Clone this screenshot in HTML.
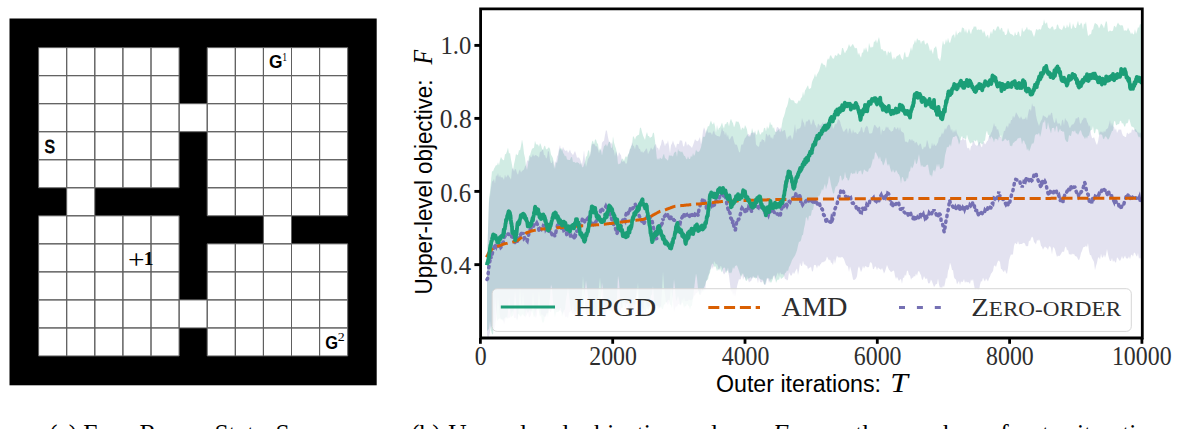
<!DOCTYPE html>
<html><head><meta charset="utf-8"><title>Figure</title>
<style>html,body{margin:0;padding:0;background:#fff;overflow:hidden}svg{display:block}</style>
</head><body>
<svg width="1179" height="429" viewBox="0 0 1179 429">
<rect x="9.5" y="18.5" width="367.2" height="366.8" fill="#000"/>
<rect x="38.60" y="47.63" width="28.15" height="28.08" fill="#fff"/>
<rect x="66.70" y="47.63" width="28.15" height="28.08" fill="#fff"/>
<rect x="94.80" y="47.63" width="28.15" height="28.08" fill="#fff"/>
<rect x="122.90" y="47.63" width="28.15" height="28.08" fill="#fff"/>
<rect x="151.00" y="47.63" width="28.15" height="28.08" fill="#fff"/>
<rect x="207.20" y="47.63" width="28.15" height="28.08" fill="#fff"/>
<rect x="235.30" y="47.63" width="28.15" height="28.08" fill="#fff"/>
<rect x="263.40" y="47.63" width="28.15" height="28.08" fill="#fff"/>
<rect x="291.50" y="47.63" width="28.15" height="28.08" fill="#fff"/>
<rect x="319.60" y="47.63" width="28.15" height="28.08" fill="#fff"/>
<rect x="38.60" y="75.66" width="28.15" height="28.08" fill="#fff"/>
<rect x="66.70" y="75.66" width="28.15" height="28.08" fill="#fff"/>
<rect x="94.80" y="75.66" width="28.15" height="28.08" fill="#fff"/>
<rect x="122.90" y="75.66" width="28.15" height="28.08" fill="#fff"/>
<rect x="151.00" y="75.66" width="28.15" height="28.08" fill="#fff"/>
<rect x="207.20" y="75.66" width="28.15" height="28.08" fill="#fff"/>
<rect x="235.30" y="75.66" width="28.15" height="28.08" fill="#fff"/>
<rect x="263.40" y="75.66" width="28.15" height="28.08" fill="#fff"/>
<rect x="291.50" y="75.66" width="28.15" height="28.08" fill="#fff"/>
<rect x="319.60" y="75.66" width="28.15" height="28.08" fill="#fff"/>
<rect x="38.60" y="103.69" width="28.15" height="28.08" fill="#fff"/>
<rect x="66.70" y="103.69" width="28.15" height="28.08" fill="#fff"/>
<rect x="94.80" y="103.69" width="28.15" height="28.08" fill="#fff"/>
<rect x="122.90" y="103.69" width="28.15" height="28.08" fill="#fff"/>
<rect x="151.00" y="103.69" width="28.15" height="28.08" fill="#fff"/>
<rect x="179.10" y="103.69" width="28.15" height="28.08" fill="#fff"/>
<rect x="207.20" y="103.69" width="28.15" height="28.08" fill="#fff"/>
<rect x="235.30" y="103.69" width="28.15" height="28.08" fill="#fff"/>
<rect x="263.40" y="103.69" width="28.15" height="28.08" fill="#fff"/>
<rect x="291.50" y="103.69" width="28.15" height="28.08" fill="#fff"/>
<rect x="319.60" y="103.69" width="28.15" height="28.08" fill="#fff"/>
<rect x="38.60" y="131.72" width="28.15" height="28.08" fill="#fff"/>
<rect x="66.70" y="131.72" width="28.15" height="28.08" fill="#fff"/>
<rect x="94.80" y="131.72" width="28.15" height="28.08" fill="#fff"/>
<rect x="122.90" y="131.72" width="28.15" height="28.08" fill="#fff"/>
<rect x="151.00" y="131.72" width="28.15" height="28.08" fill="#fff"/>
<rect x="207.20" y="131.72" width="28.15" height="28.08" fill="#fff"/>
<rect x="235.30" y="131.72" width="28.15" height="28.08" fill="#fff"/>
<rect x="263.40" y="131.72" width="28.15" height="28.08" fill="#fff"/>
<rect x="291.50" y="131.72" width="28.15" height="28.08" fill="#fff"/>
<rect x="319.60" y="131.72" width="28.15" height="28.08" fill="#fff"/>
<rect x="38.60" y="159.75" width="28.15" height="28.08" fill="#fff"/>
<rect x="66.70" y="159.75" width="28.15" height="28.08" fill="#fff"/>
<rect x="94.80" y="159.75" width="28.15" height="28.08" fill="#fff"/>
<rect x="122.90" y="159.75" width="28.15" height="28.08" fill="#fff"/>
<rect x="151.00" y="159.75" width="28.15" height="28.08" fill="#fff"/>
<rect x="207.20" y="159.75" width="28.15" height="28.08" fill="#fff"/>
<rect x="235.30" y="159.75" width="28.15" height="28.08" fill="#fff"/>
<rect x="263.40" y="159.75" width="28.15" height="28.08" fill="#fff"/>
<rect x="291.50" y="159.75" width="28.15" height="28.08" fill="#fff"/>
<rect x="319.60" y="159.75" width="28.15" height="28.08" fill="#fff"/>
<rect x="66.70" y="187.78" width="28.15" height="28.08" fill="#fff"/>
<rect x="207.20" y="187.78" width="28.15" height="28.08" fill="#fff"/>
<rect x="235.30" y="187.78" width="28.15" height="28.08" fill="#fff"/>
<rect x="263.40" y="187.78" width="28.15" height="28.08" fill="#fff"/>
<rect x="291.50" y="187.78" width="28.15" height="28.08" fill="#fff"/>
<rect x="319.60" y="187.78" width="28.15" height="28.08" fill="#fff"/>
<rect x="38.60" y="215.81" width="28.15" height="28.08" fill="#fff"/>
<rect x="66.70" y="215.81" width="28.15" height="28.08" fill="#fff"/>
<rect x="94.80" y="215.81" width="28.15" height="28.08" fill="#fff"/>
<rect x="122.90" y="215.81" width="28.15" height="28.08" fill="#fff"/>
<rect x="151.00" y="215.81" width="28.15" height="28.08" fill="#fff"/>
<rect x="263.40" y="215.81" width="28.15" height="28.08" fill="#fff"/>
<rect x="38.60" y="243.84" width="28.15" height="28.08" fill="#fff"/>
<rect x="66.70" y="243.84" width="28.15" height="28.08" fill="#fff"/>
<rect x="94.80" y="243.84" width="28.15" height="28.08" fill="#fff"/>
<rect x="122.90" y="243.84" width="28.15" height="28.08" fill="#fff"/>
<rect x="151.00" y="243.84" width="28.15" height="28.08" fill="#fff"/>
<rect x="207.20" y="243.84" width="28.15" height="28.08" fill="#fff"/>
<rect x="235.30" y="243.84" width="28.15" height="28.08" fill="#fff"/>
<rect x="263.40" y="243.84" width="28.15" height="28.08" fill="#fff"/>
<rect x="291.50" y="243.84" width="28.15" height="28.08" fill="#fff"/>
<rect x="319.60" y="243.84" width="28.15" height="28.08" fill="#fff"/>
<rect x="38.60" y="271.87" width="28.15" height="28.08" fill="#fff"/>
<rect x="66.70" y="271.87" width="28.15" height="28.08" fill="#fff"/>
<rect x="94.80" y="271.87" width="28.15" height="28.08" fill="#fff"/>
<rect x="122.90" y="271.87" width="28.15" height="28.08" fill="#fff"/>
<rect x="151.00" y="271.87" width="28.15" height="28.08" fill="#fff"/>
<rect x="207.20" y="271.87" width="28.15" height="28.08" fill="#fff"/>
<rect x="235.30" y="271.87" width="28.15" height="28.08" fill="#fff"/>
<rect x="263.40" y="271.87" width="28.15" height="28.08" fill="#fff"/>
<rect x="291.50" y="271.87" width="28.15" height="28.08" fill="#fff"/>
<rect x="319.60" y="271.87" width="28.15" height="28.08" fill="#fff"/>
<rect x="38.60" y="299.90" width="28.15" height="28.08" fill="#fff"/>
<rect x="66.70" y="299.90" width="28.15" height="28.08" fill="#fff"/>
<rect x="94.80" y="299.90" width="28.15" height="28.08" fill="#fff"/>
<rect x="122.90" y="299.90" width="28.15" height="28.08" fill="#fff"/>
<rect x="151.00" y="299.90" width="28.15" height="28.08" fill="#fff"/>
<rect x="179.10" y="299.90" width="28.15" height="28.08" fill="#fff"/>
<rect x="207.20" y="299.90" width="28.15" height="28.08" fill="#fff"/>
<rect x="235.30" y="299.90" width="28.15" height="28.08" fill="#fff"/>
<rect x="263.40" y="299.90" width="28.15" height="28.08" fill="#fff"/>
<rect x="291.50" y="299.90" width="28.15" height="28.08" fill="#fff"/>
<rect x="319.60" y="299.90" width="28.15" height="28.08" fill="#fff"/>
<rect x="38.60" y="327.93" width="28.15" height="28.08" fill="#fff"/>
<rect x="66.70" y="327.93" width="28.15" height="28.08" fill="#fff"/>
<rect x="94.80" y="327.93" width="28.15" height="28.08" fill="#fff"/>
<rect x="122.90" y="327.93" width="28.15" height="28.08" fill="#fff"/>
<rect x="151.00" y="327.93" width="28.15" height="28.08" fill="#fff"/>
<rect x="207.20" y="327.93" width="28.15" height="28.08" fill="#fff"/>
<rect x="235.30" y="327.93" width="28.15" height="28.08" fill="#fff"/>
<rect x="263.40" y="327.93" width="28.15" height="28.08" fill="#fff"/>
<rect x="291.50" y="327.93" width="28.15" height="28.08" fill="#fff"/>
<rect x="319.60" y="327.93" width="28.15" height="28.08" fill="#fff"/>
<path d="M38.60,47.63H66.70V75.66H38.60ZM66.70,47.63H94.80V75.66H66.70ZM94.80,47.63H122.90V75.66H94.80ZM122.90,47.63H151.00V75.66H122.90ZM151.00,47.63H179.10V75.66H151.00ZM207.20,47.63H235.30V75.66H207.20ZM235.30,47.63H263.40V75.66H235.30ZM263.40,47.63H291.50V75.66H263.40ZM291.50,47.63H319.60V75.66H291.50ZM319.60,47.63H347.70V75.66H319.60ZM38.60,75.66H66.70V103.69H38.60ZM66.70,75.66H94.80V103.69H66.70ZM94.80,75.66H122.90V103.69H94.80ZM122.90,75.66H151.00V103.69H122.90ZM151.00,75.66H179.10V103.69H151.00ZM207.20,75.66H235.30V103.69H207.20ZM235.30,75.66H263.40V103.69H235.30ZM263.40,75.66H291.50V103.69H263.40ZM291.50,75.66H319.60V103.69H291.50ZM319.60,75.66H347.70V103.69H319.60ZM38.60,103.69H66.70V131.72H38.60ZM66.70,103.69H94.80V131.72H66.70ZM94.80,103.69H122.90V131.72H94.80ZM122.90,103.69H151.00V131.72H122.90ZM151.00,103.69H179.10V131.72H151.00ZM179.10,103.69H207.20V131.72H179.10ZM207.20,103.69H235.30V131.72H207.20ZM235.30,103.69H263.40V131.72H235.30ZM263.40,103.69H291.50V131.72H263.40ZM291.50,103.69H319.60V131.72H291.50ZM319.60,103.69H347.70V131.72H319.60ZM38.60,131.72H66.70V159.75H38.60ZM66.70,131.72H94.80V159.75H66.70ZM94.80,131.72H122.90V159.75H94.80ZM122.90,131.72H151.00V159.75H122.90ZM151.00,131.72H179.10V159.75H151.00ZM207.20,131.72H235.30V159.75H207.20ZM235.30,131.72H263.40V159.75H235.30ZM263.40,131.72H291.50V159.75H263.40ZM291.50,131.72H319.60V159.75H291.50ZM319.60,131.72H347.70V159.75H319.60ZM38.60,159.75H66.70V187.78H38.60ZM66.70,159.75H94.80V187.78H66.70ZM94.80,159.75H122.90V187.78H94.80ZM122.90,159.75H151.00V187.78H122.90ZM151.00,159.75H179.10V187.78H151.00ZM207.20,159.75H235.30V187.78H207.20ZM235.30,159.75H263.40V187.78H235.30ZM263.40,159.75H291.50V187.78H263.40ZM291.50,159.75H319.60V187.78H291.50ZM319.60,159.75H347.70V187.78H319.60ZM66.70,187.78H94.80V215.81H66.70ZM207.20,187.78H235.30V215.81H207.20ZM235.30,187.78H263.40V215.81H235.30ZM263.40,187.78H291.50V215.81H263.40ZM291.50,187.78H319.60V215.81H291.50ZM319.60,187.78H347.70V215.81H319.60ZM38.60,215.81H66.70V243.84H38.60ZM66.70,215.81H94.80V243.84H66.70ZM94.80,215.81H122.90V243.84H94.80ZM122.90,215.81H151.00V243.84H122.90ZM151.00,215.81H179.10V243.84H151.00ZM263.40,215.81H291.50V243.84H263.40ZM38.60,243.84H66.70V271.87H38.60ZM66.70,243.84H94.80V271.87H66.70ZM94.80,243.84H122.90V271.87H94.80ZM122.90,243.84H151.00V271.87H122.90ZM151.00,243.84H179.10V271.87H151.00ZM207.20,243.84H235.30V271.87H207.20ZM235.30,243.84H263.40V271.87H235.30ZM263.40,243.84H291.50V271.87H263.40ZM291.50,243.84H319.60V271.87H291.50ZM319.60,243.84H347.70V271.87H319.60ZM38.60,271.87H66.70V299.90H38.60ZM66.70,271.87H94.80V299.90H66.70ZM94.80,271.87H122.90V299.90H94.80ZM122.90,271.87H151.00V299.90H122.90ZM151.00,271.87H179.10V299.90H151.00ZM207.20,271.87H235.30V299.90H207.20ZM235.30,271.87H263.40V299.90H235.30ZM263.40,271.87H291.50V299.90H263.40ZM291.50,271.87H319.60V299.90H291.50ZM319.60,271.87H347.70V299.90H319.60ZM38.60,299.90H66.70V327.93H38.60ZM66.70,299.90H94.80V327.93H66.70ZM94.80,299.90H122.90V327.93H94.80ZM122.90,299.90H151.00V327.93H122.90ZM151.00,299.90H179.10V327.93H151.00ZM179.10,299.90H207.20V327.93H179.10ZM207.20,299.90H235.30V327.93H207.20ZM235.30,299.90H263.40V327.93H235.30ZM263.40,299.90H291.50V327.93H263.40ZM291.50,299.90H319.60V327.93H291.50ZM319.60,299.90H347.70V327.93H319.60ZM38.60,327.93H66.70V355.96H38.60ZM66.70,327.93H94.80V355.96H66.70ZM94.80,327.93H122.90V355.96H94.80ZM122.90,327.93H151.00V355.96H122.90ZM151.00,327.93H179.10V355.96H151.00ZM207.20,327.93H235.30V355.96H207.20ZM235.30,327.93H263.40V355.96H235.30ZM263.40,327.93H291.50V355.96H263.40ZM291.50,327.93H319.60V355.96H291.50ZM319.60,327.93H347.70V355.96H319.60Z" fill="none" stroke="#606060" stroke-width="1"/>
<defs><clipPath id="ax"><rect x="480.4" y="8.8" width="661.5" height="329.2"/></clipPath></defs>
<g clip-path="url(#ax)">
<path d="M487.0,266.0 L488.0,228.4 L489.0,198.1 L490.0,191.9 L491.0,180.9 L492.0,171.0 L493.0,171.4 L494.0,168.7 L495.0,167.0 L496.0,164.9 L497.0,165.4 L498.0,162.2 L499.0,165.4 L500.0,159.7 L501.0,156.9 L502.0,158.7 L503.0,160.0 L504.0,160.2 L505.0,154.2 L506.0,153.9 L507.0,151.3 L508.0,147.4 L509.0,153.8 L510.0,152.7 L511.0,159.6 L512.0,164.7 L513.0,170.7 L514.0,164.2 L515.0,159.7 L516.0,153.5 L517.0,155.3 L518.0,154.8 L519.0,149.9 L520.0,150.5 L521.0,146.1 L522.0,139.5 L523.0,144.4 L524.0,153.5 L525.0,157.8 L526.0,166.2 L527.0,170.1 L528.0,164.9 L529.0,155.8 L530.0,155.3 L531.0,151.8 L532.0,148.7 L533.0,148.2 L534.0,147.7 L535.0,140.8 L536.0,144.3 L537.0,144.6 L538.0,144.6 L539.0,146.7 L540.0,142.9 L541.0,144.9 L542.0,148.8 L543.0,149.9 L544.0,146.6 L545.0,145.4 L546.0,149.1 L547.0,149.6 L548.0,147.9 L549.0,147.2 L550.0,149.0 L551.0,154.5 L552.0,156.2 L553.0,158.2 L554.0,164.8 L555.0,168.9 L556.0,162.1 L557.0,163.3 L558.0,158.8 L559.0,151.1 L560.0,148.6 L561.0,148.6 L562.0,148.7 L563.0,152.6 L564.0,154.3 L565.0,156.6 L566.0,155.6 L567.0,159.6 L568.0,159.8 L569.0,159.9 L570.0,160.0 L571.0,157.2 L572.0,157.0 L573.0,162.2 L574.0,161.8 L575.0,162.6 L576.0,163.1 L577.0,162.1 L578.0,162.7 L579.0,163.2 L580.0,164.8 L581.0,162.8 L582.0,166.8 L583.0,167.5 L584.0,164.8 L585.0,161.7 L586.0,156.8 L587.0,156.1 L588.0,151.0 L589.0,150.1 L590.0,156.7 L591.0,146.6 L592.0,141.8 L593.0,140.6 L594.0,144.4 L595.0,139.4 L596.0,139.4 L597.0,143.0 L598.0,144.0 L599.0,151.1 L600.0,147.9 L601.0,150.4 L602.0,155.5 L603.0,150.6 L604.0,146.2 L605.0,145.4 L606.0,144.1 L607.0,146.7 L608.0,144.3 L609.0,141.8 L610.0,141.7 L611.0,148.1 L612.0,147.6 L613.0,136.2 L614.0,142.5 L615.0,145.9 L616.0,148.8 L617.0,153.8 L618.0,164.5 L619.0,163.6 L620.0,164.0 L621.0,162.0 L622.0,158.4 L623.0,159.0 L624.0,161.2 L625.0,157.7 L626.0,156.0 L627.0,157.6 L628.0,154.6 L629.0,152.7 L630.0,149.3 L631.0,146.3 L632.0,145.1 L633.0,136.0 L634.0,137.3 L635.0,139.7 L636.0,136.4 L637.0,135.9 L638.0,134.7 L639.0,135.0 L640.0,127.5 L641.0,128.0 L642.0,131.9 L643.0,135.5 L644.0,137.8 L645.0,140.0 L646.0,135.0 L647.0,131.9 L648.0,135.9 L649.0,135.9 L650.0,138.0 L651.0,137.0 L652.0,136.7 L653.0,132.4 L654.0,133.3 L655.0,140.8 L656.0,150.4 L657.0,160.1 L658.0,158.1 L659.0,159.9 L660.0,157.4 L661.0,158.4 L662.0,159.1 L663.0,155.6 L664.0,153.8 L665.0,158.1 L666.0,158.8 L667.0,159.8 L668.0,160.8 L669.0,155.1 L670.0,156.0 L671.0,155.2 L672.0,155.9 L673.0,156.5 L674.0,153.2 L675.0,152.1 L676.0,151.6 L677.0,156.9 L678.0,148.9 L679.0,151.4 L680.0,150.9 L681.0,152.6 L682.0,151.3 L683.0,153.3 L684.0,155.8 L685.0,155.9 L686.0,158.4 L687.0,159.6 L688.0,156.3 L689.0,159.0 L690.0,158.9 L691.0,155.5 L692.0,157.3 L693.0,153.0 L694.0,155.9 L695.0,154.3 L696.0,149.6 L697.0,151.6 L698.0,151.8 L699.0,151.7 L700.0,150.0 L701.0,147.2 L702.0,142.2 L703.0,136.7 L704.0,136.8 L705.0,136.7 L706.0,132.3 L707.0,129.2 L708.0,125.9 L709.0,126.6 L710.0,123.0 L711.0,120.5 L712.0,123.5 L713.0,124.5 L714.0,121.9 L715.0,126.2 L716.0,132.8 L717.0,124.7 L718.0,130.6 L719.0,127.9 L720.0,127.4 L721.0,125.3 L722.0,122.6 L723.0,126.2 L724.0,128.6 L725.0,123.8 L726.0,124.4 L727.0,121.9 L728.0,122.3 L729.0,126.4 L730.0,121.2 L731.0,118.7 L732.0,121.4 L733.0,123.2 L734.0,127.6 L735.0,124.9 L736.0,120.8 L737.0,122.2 L738.0,121.3 L739.0,122.8 L740.0,125.4 L741.0,130.6 L742.0,128.0 L743.0,127.4 L744.0,129.4 L745.0,125.1 L746.0,127.0 L747.0,129.4 L748.0,136.4 L749.0,136.0 L750.0,137.1 L751.0,134.4 L752.0,128.0 L753.0,131.4 L754.0,135.0 L755.0,130.2 L756.0,134.2 L757.0,134.8 L758.0,129.2 L759.0,131.2 L760.0,134.7 L761.0,134.1 L762.0,131.8 L763.0,132.8 L764.0,128.1 L765.0,127.8 L766.0,131.4 L767.0,126.1 L768.0,129.0 L769.0,127.0 L770.0,121.5 L771.0,125.2 L772.0,124.3 L773.0,128.7 L774.0,126.9 L775.0,131.4 L776.0,131.9 L777.0,131.6 L778.0,130.0 L779.0,129.3 L780.0,132.6 L781.0,130.5 L782.0,123.6 L783.0,118.4 L784.0,116.2 L785.0,112.8 L786.0,108.3 L787.0,106.5 L788.0,102.9 L789.0,97.2 L790.0,98.4 L791.0,99.9 L792.0,100.2 L793.0,100.2 L794.0,100.8 L795.0,103.2 L796.0,103.0 L797.0,103.9 L798.0,101.7 L799.0,100.1 L800.0,101.5 L801.0,97.7 L802.0,97.6 L803.0,91.4 L804.0,95.9 L805.0,90.5 L806.0,89.1 L807.0,86.7 L808.0,85.2 L809.0,89.2 L810.0,88.4 L811.0,88.1 L812.0,82.0 L813.0,79.5 L814.0,77.6 L815.0,73.4 L816.0,77.4 L817.0,74.6 L818.0,72.7 L819.0,71.1 L820.0,67.8 L821.0,64.0 L822.0,62.5 L823.0,64.6 L824.0,64.8 L825.0,65.3 L826.0,67.9 L827.0,60.8 L828.0,58.2 L829.0,59.8 L830.0,55.8 L831.0,55.2 L832.0,57.4 L833.0,58.7 L834.0,58.6 L835.0,54.9 L836.0,55.4 L837.0,56.1 L838.0,53.1 L839.0,54.0 L840.0,55.2 L841.0,54.5 L842.0,48.1 L843.0,48.1 L844.0,51.2 L845.0,53.4 L846.0,51.1 L847.0,49.9 L848.0,47.2 L849.0,44.0 L850.0,46.6 L851.0,46.7 L852.0,44.7 L853.0,44.1 L854.0,46.2 L855.0,48.4 L856.0,47.8 L857.0,48.4 L858.0,54.9 L859.0,52.6 L860.0,55.7 L861.0,57.7 L862.0,52.4 L863.0,52.7 L864.0,47.7 L865.0,50.8 L866.0,46.9 L867.0,50.5 L868.0,52.4 L869.0,42.7 L870.0,46.6 L871.0,48.0 L872.0,46.4 L873.0,47.5 L874.0,41.2 L875.0,42.1 L876.0,39.3 L877.0,43.6 L878.0,40.1 L879.0,37.0 L880.0,42.1 L881.0,49.5 L882.0,49.1 L883.0,49.9 L884.0,51.6 L885.0,50.6 L886.0,51.4 L887.0,56.1 L888.0,50.9 L889.0,52.6 L890.0,52.9 L891.0,51.1 L892.0,57.3 L893.0,60.0 L894.0,56.5 L895.0,59.4 L896.0,57.5 L897.0,55.8 L898.0,55.8 L899.0,54.8 L900.0,54.0 L901.0,57.4 L902.0,59.1 L903.0,59.9 L904.0,53.7 L905.0,51.5 L906.0,57.4 L907.0,56.4 L908.0,57.5 L909.0,54.6 L910.0,51.2 L911.0,47.1 L912.0,51.0 L913.0,45.1 L914.0,43.4 L915.0,39.8 L916.0,43.2 L917.0,38.1 L918.0,39.7 L919.0,40.5 L920.0,39.9 L921.0,44.1 L922.0,40.8 L923.0,41.5 L924.0,39.8 L925.0,44.5 L926.0,44.3 L927.0,42.4 L928.0,43.8 L929.0,46.9 L930.0,51.5 L931.0,48.7 L932.0,51.4 L933.0,54.3 L934.0,48.2 L935.0,47.6 L936.0,46.1 L937.0,49.9 L938.0,58.4 L939.0,58.6 L940.0,61.5 L941.0,56.6 L942.0,46.6 L943.0,40.5 L944.0,44.7 L945.0,43.8 L946.0,38.9 L947.0,43.1 L948.0,37.7 L949.0,41.7 L950.0,43.3 L951.0,39.4 L952.0,36.0 L953.0,35.1 L954.0,34.2 L955.0,38.2 L956.0,29.9 L957.0,35.5 L958.0,33.3 L959.0,32.8 L960.0,31.2 L961.0,33.0 L962.0,27.3 L963.0,28.1 L964.0,28.3 L965.0,32.7 L966.0,28.8 L967.0,33.8 L968.0,31.5 L969.0,28.6 L970.0,31.9 L971.0,34.2 L972.0,30.0 L973.0,28.7 L974.0,25.9 L975.0,27.3 L976.0,25.9 L977.0,30.2 L978.0,29.5 L979.0,29.5 L980.0,30.2 L981.0,28.9 L982.0,30.5 L983.0,33.5 L984.0,30.4 L985.0,32.9 L986.0,37.1 L987.0,35.6 L988.0,34.5 L989.0,38.9 L990.0,34.3 L991.0,31.0 L992.0,34.2 L993.0,29.5 L994.0,28.9 L995.0,31.3 L996.0,29.4 L997.0,26.9 L998.0,25.9 L999.0,27.2 L1000.0,30.6 L1001.0,28.3 L1002.0,27.8 L1003.0,32.3 L1004.0,30.9 L1005.0,35.0 L1006.0,35.1 L1007.0,33.6 L1008.0,27.8 L1009.0,31.2 L1010.0,33.4 L1011.0,33.9 L1012.0,34.4 L1013.0,35.0 L1014.0,36.5 L1015.0,31.7 L1016.0,34.9 L1017.0,35.1 L1018.0,31.2 L1019.0,32.2 L1020.0,36.7 L1021.0,35.7 L1022.0,27.3 L1023.0,31.2 L1024.0,31.8 L1025.0,30.1 L1026.0,29.0 L1027.0,26.6 L1028.0,30.4 L1029.0,28.8 L1030.0,30.7 L1031.0,30.1 L1032.0,31.4 L1033.0,34.4 L1034.0,37.0 L1035.0,33.9 L1036.0,29.3 L1037.0,29.3 L1038.0,30.6 L1039.0,28.8 L1040.0,29.5 L1041.0,29.5 L1042.0,25.4 L1043.0,25.1 L1044.0,19.2 L1045.0,23.4 L1046.0,23.4 L1047.0,21.9 L1048.0,27.5 L1049.0,28.0 L1050.0,29.3 L1051.0,27.6 L1052.0,26.4 L1053.0,26.5 L1054.0,30.6 L1055.0,28.7 L1056.0,29.6 L1057.0,24.5 L1058.0,24.8 L1059.0,27.9 L1060.0,29.1 L1061.0,29.6 L1062.0,30.0 L1063.0,27.6 L1064.0,25.1 L1065.0,27.8 L1066.0,28.4 L1067.0,24.2 L1068.0,27.7 L1069.0,26.3 L1070.0,21.4 L1071.0,28.9 L1072.0,28.2 L1073.0,23.3 L1074.0,26.3 L1075.0,28.1 L1076.0,28.1 L1077.0,24.1 L1078.0,20.8 L1079.0,25.2 L1080.0,25.1 L1081.0,22.5 L1082.0,23.9 L1083.0,29.4 L1084.0,23.3 L1085.0,24.6 L1086.0,21.4 L1087.0,29.4 L1088.0,35.7 L1089.0,35.4 L1090.0,33.9 L1091.0,34.4 L1092.0,29.5 L1093.0,29.7 L1094.0,25.2 L1095.0,22.8 L1096.0,23.8 L1097.0,24.2 L1098.0,25.4 L1099.0,28.4 L1100.0,26.5 L1101.0,23.5 L1102.0,24.6 L1103.0,26.1 L1104.0,28.5 L1105.0,24.4 L1106.0,21.1 L1107.0,22.2 L1108.0,31.4 L1109.0,31.5 L1110.0,30.3 L1111.0,31.3 L1112.0,31.0 L1113.0,30.5 L1114.0,25.7 L1115.0,26.3 L1116.0,27.7 L1117.0,24.5 L1118.0,22.4 L1119.0,24.2 L1120.0,25.2 L1121.0,25.5 L1122.0,25.1 L1123.0,25.9 L1124.0,30.9 L1125.0,30.0 L1126.0,30.8 L1127.0,30.5 L1128.0,27.5 L1129.0,29.8 L1130.0,31.6 L1131.0,34.2 L1132.0,32.3 L1133.0,34.3 L1134.0,34.2 L1135.0,29.0 L1136.0,34.0 L1137.0,30.9 L1138.0,27.0 L1139.0,27.9 L1140.0,24.1 L1141.0,24.5 L1142.0,26.1 L1142.0,139.0 L1141.0,139.3 L1140.0,136.4 L1139.0,137.4 L1138.0,136.0 L1137.0,132.6 L1136.0,132.0 L1135.0,131.2 L1134.0,128.0 L1133.0,126.8 L1132.0,126.9 L1131.0,125.4 L1130.0,121.4 L1129.0,118.4 L1128.0,122.4 L1127.0,123.6 L1126.0,123.3 L1125.0,126.9 L1124.0,125.8 L1123.0,123.0 L1122.0,123.7 L1121.0,120.7 L1120.0,120.9 L1119.0,124.5 L1118.0,123.7 L1117.0,125.1 L1116.0,125.3 L1115.0,120.8 L1114.0,121.8 L1113.0,130.8 L1112.0,131.1 L1111.0,133.6 L1110.0,136.3 L1109.0,138.5 L1108.0,139.8 L1107.0,138.1 L1106.0,136.4 L1105.0,136.4 L1104.0,139.3 L1103.0,138.6 L1102.0,134.6 L1101.0,134.7 L1100.0,134.1 L1099.0,135.4 L1098.0,129.3 L1097.0,129.8 L1096.0,128.6 L1095.0,133.4 L1094.0,132.7 L1093.0,125.9 L1092.0,130.1 L1091.0,129.8 L1090.0,131.6 L1089.0,135.9 L1088.0,135.6 L1087.0,138.8 L1086.0,136.4 L1085.0,139.3 L1084.0,136.9 L1083.0,135.9 L1082.0,133.9 L1081.0,130.5 L1080.0,130.6 L1079.0,133.0 L1078.0,135.0 L1077.0,133.3 L1076.0,133.4 L1075.0,130.3 L1074.0,131.8 L1073.0,131.3 L1072.0,131.0 L1071.0,136.0 L1070.0,135.8 L1069.0,135.0 L1068.0,141.7 L1067.0,141.9 L1066.0,141.0 L1065.0,138.9 L1064.0,131.3 L1063.0,132.1 L1062.0,131.0 L1061.0,131.1 L1060.0,128.6 L1059.0,131.1 L1058.0,132.8 L1057.0,125.7 L1056.0,126.9 L1055.0,132.2 L1054.0,127.8 L1053.0,128.1 L1052.0,127.9 L1051.0,133.6 L1050.0,130.1 L1049.0,127.0 L1048.0,122.3 L1047.0,128.8 L1046.0,129.2 L1045.0,119.6 L1044.0,122.8 L1043.0,122.1 L1042.0,128.1 L1041.0,133.8 L1040.0,137.1 L1039.0,132.5 L1038.0,134.4 L1037.0,134.2 L1036.0,134.3 L1035.0,135.5 L1034.0,142.0 L1033.0,143.9 L1032.0,143.2 L1031.0,146.3 L1030.0,149.5 L1029.0,151.5 L1028.0,148.3 L1027.0,150.5 L1026.0,144.9 L1025.0,143.4 L1024.0,140.6 L1023.0,140.8 L1022.0,144.6 L1021.0,138.3 L1020.0,137.6 L1019.0,138.4 L1018.0,137.9 L1017.0,139.7 L1016.0,141.1 L1015.0,141.2 L1014.0,142.4 L1013.0,143.1 L1012.0,146.5 L1011.0,145.4 L1010.0,146.3 L1009.0,139.7 L1008.0,140.4 L1007.0,140.8 L1006.0,139.5 L1005.0,138.5 L1004.0,140.4 L1003.0,141.1 L1002.0,141.5 L1001.0,134.4 L1000.0,138.3 L999.0,136.1 L998.0,140.8 L997.0,138.7 L996.0,139.2 L995.0,138.2 L994.0,142.4 L993.0,139.1 L992.0,137.3 L991.0,136.2 L990.0,139.5 L989.0,134.9 L988.0,134.7 L987.0,130.5 L986.0,133.4 L985.0,140.7 L984.0,140.8 L983.0,143.4 L982.0,144.6 L981.0,143.3 L980.0,142.8 L979.0,146.8 L978.0,143.0 L977.0,139.5 L976.0,141.3 L975.0,141.2 L974.0,140.1 L973.0,142.9 L972.0,141.9 L971.0,143.4 L970.0,143.3 L969.0,141.1 L968.0,138.4 L967.0,134.6 L966.0,139.4 L965.0,139.0 L964.0,138.0 L963.0,138.0 L962.0,136.0 L961.0,137.5 L960.0,142.0 L959.0,144.8 L958.0,140.3 L957.0,137.1 L956.0,135.5 L955.0,136.5 L954.0,137.0 L953.0,137.1 L952.0,140.2 L951.0,146.7 L950.0,143.9 L949.0,146.3 L948.0,147.5 L947.0,146.8 L946.0,151.4 L945.0,155.4 L944.0,164.0 L943.0,168.0 L942.0,167.8 L941.0,169.2 L940.0,169.1 L939.0,163.6 L938.0,167.6 L937.0,163.7 L936.0,168.2 L935.0,172.0 L934.0,169.5 L933.0,171.2 L932.0,176.9 L931.0,174.4 L930.0,175.8 L929.0,170.8 L928.0,164.8 L927.0,164.8 L926.0,165.7 L925.0,167.2 L924.0,166.4 L923.0,167.1 L922.0,164.7 L921.0,166.9 L920.0,161.1 L919.0,153.9 L918.0,159.3 L917.0,163.6 L916.0,164.1 L915.0,158.7 L914.0,163.7 L913.0,167.0 L912.0,168.5 L911.0,165.9 L910.0,171.2 L909.0,171.8 L908.0,179.6 L907.0,177.2 L906.0,181.1 L905.0,181.5 L904.0,181.3 L903.0,177.4 L902.0,177.0 L901.0,183.8 L900.0,177.2 L899.0,174.4 L898.0,173.8 L897.0,171.5 L896.0,170.1 L895.0,172.6 L894.0,172.3 L893.0,169.3 L892.0,172.5 L891.0,171.1 L890.0,167.6 L889.0,163.6 L888.0,165.9 L887.0,163.6 L886.0,157.3 L885.0,161.0 L884.0,164.2 L883.0,165.6 L882.0,161.5 L881.0,161.0 L880.0,156.2 L879.0,159.5 L878.0,156.9 L877.0,155.1 L876.0,152.5 L875.0,152.6 L874.0,160.1 L873.0,158.2 L872.0,162.9 L871.0,166.4 L870.0,168.4 L869.0,168.3 L868.0,171.9 L867.0,171.5 L866.0,171.2 L865.0,170.2 L864.0,169.3 L863.0,173.4 L862.0,174.8 L861.0,170.1 L860.0,171.6 L859.0,170.7 L858.0,173.6 L857.0,174.3 L856.0,169.9 L855.0,174.0 L854.0,172.8 L853.0,174.3 L852.0,173.6 L851.0,172.4 L850.0,176.4 L849.0,180.1 L848.0,180.8 L847.0,178.0 L846.0,177.5 L845.0,171.8 L844.0,178.5 L843.0,179.5 L842.0,181.0 L841.0,175.9 L840.0,175.6 L839.0,181.4 L838.0,183.6 L837.0,186.4 L836.0,186.1 L835.0,188.4 L834.0,193.8 L833.0,193.1 L832.0,189.0 L831.0,185.0 L830.0,179.3 L829.0,175.4 L828.0,183.1 L827.0,185.6 L826.0,189.6 L825.0,183.8 L824.0,186.7 L823.0,190.7 L822.0,188.8 L821.0,192.4 L820.0,194.6 L819.0,197.0 L818.0,195.6 L817.0,202.5 L816.0,203.9 L815.0,203.2 L814.0,204.4 L813.0,210.3 L812.0,209.8 L811.0,215.2 L810.0,216.3 L809.0,215.6 L808.0,221.3 L807.0,218.1 L806.0,217.0 L805.0,224.3 L804.0,228.5 L803.0,234.8 L802.0,235.6 L801.0,240.3 L800.0,241.8 L799.0,241.8 L798.0,245.4 L797.0,250.2 L796.0,253.1 L795.0,255.6 L794.0,256.9 L793.0,258.5 L792.0,260.2 L791.0,262.9 L790.0,265.5 L789.0,267.1 L788.0,271.3 L787.0,270.2 L786.0,272.5 L785.0,273.0 L784.0,276.3 L783.0,277.5 L782.0,278.2 L781.0,279.1 L780.0,276.2 L779.0,280.0 L778.0,279.3 L777.0,280.6 L776.0,282.9 L775.0,276.4 L774.0,274.7 L773.0,278.4 L772.0,280.9 L771.0,282.9 L770.0,281.4 L769.0,277.9 L768.0,278.8 L767.0,277.5 L766.0,281.3 L765.0,284.3 L764.0,284.6 L763.0,279.8 L762.0,279.7 L761.0,279.5 L760.0,278.9 L759.0,278.0 L758.0,274.6 L757.0,277.2 L756.0,278.7 L755.0,277.9 L754.0,277.3 L753.0,275.7 L752.0,279.0 L751.0,277.2 L750.0,277.4 L749.0,278.7 L748.0,278.3 L747.0,280.5 L746.0,281.0 L745.0,277.4 L744.0,276.0 L743.0,273.3 L742.0,274.7 L741.0,276.9 L740.0,274.3 L739.0,271.1 L738.0,268.2 L737.0,265.5 L736.0,265.6 L735.0,266.2 L734.0,269.3 L733.0,266.9 L732.0,271.5 L731.0,273.6 L730.0,272.3 L729.0,273.4 L728.0,267.5 L727.0,271.3 L726.0,273.3 L725.0,267.7 L724.0,267.6 L723.0,268.6 L722.0,272.5 L721.0,270.7 L720.0,268.1 L719.0,269.9 L718.0,268.7 L717.0,271.2 L716.0,267.4 L715.0,265.8 L714.0,267.5 L713.0,263.5 L712.0,264.0 L711.0,266.3 L710.0,272.7 L709.0,274.7 L708.0,279.6 L707.0,280.0 L706.0,281.7 L705.0,285.5 L704.0,287.2 L703.0,293.1 L702.0,289.0 L701.0,289.1 L700.0,295.1 L699.0,294.0 L698.0,289.1 L697.0,277.9 L696.0,273.4 L695.0,281.2 L694.0,289.4 L693.0,298.0 L692.0,305.8 L691.0,306.0 L690.0,309.8 L689.0,305.9 L688.0,305.4 L687.0,303.6 L686.0,306.8 L685.0,305.7 L684.0,308.2 L683.0,303.7 L682.0,302.1 L681.0,306.0 L680.0,304.0 L679.0,299.2 L678.0,296.0 L677.0,299.3 L676.0,301.1 L675.0,288.8 L674.0,279.3 L673.0,292.4 L672.0,307.9 L671.0,305.2 L670.0,304.4 L669.0,299.8 L668.0,300.1 L667.0,302.2 L666.0,301.8 L665.0,304.5 L664.0,304.4 L663.0,309.2 L662.0,309.0 L661.0,306.7 L660.0,308.6 L659.0,307.1 L658.0,305.3 L657.0,305.9 L656.0,305.0 L655.0,307.2 L654.0,299.3 L653.0,286.1 L652.0,294.4 L651.0,295.6 L650.0,305.0 L649.0,308.9 L648.0,310.5 L647.0,303.7 L646.0,313.0 L645.0,309.9 L644.0,309.7 L643.0,309.7 L642.0,306.7 L641.0,305.0 L640.0,304.6 L639.0,307.6 L638.0,299.6 L637.0,287.2 L636.0,296.7 L635.0,303.9 L634.0,305.1 L633.0,304.4 L632.0,306.5 L631.0,309.5 L630.0,309.0 L629.0,302.8 L628.0,302.6 L627.0,304.4 L626.0,303.5 L625.0,301.8 L624.0,302.6 L623.0,307.4 L622.0,308.3 L621.0,308.3 L620.0,295.1 L619.0,281.2 L618.0,275.8 L617.0,296.3 L616.0,309.3 L615.0,307.3 L614.0,308.2 L613.0,303.5 L612.0,310.3 L611.0,310.1 L610.0,310.3 L609.0,311.1 L608.0,309.3 L607.0,308.4 L606.0,308.8 L605.0,307.0 L604.0,306.2 L603.0,289.9 L602.0,282.6 L601.0,296.8 L600.0,303.8 L599.0,310.2 L598.0,313.4 L597.0,316.2 L596.0,313.4 L595.0,316.1 L594.0,309.0 L593.0,311.6 L592.0,311.9 L591.0,314.1 L590.0,314.0 L589.0,305.7 L588.0,296.6 L587.0,288.9 L586.0,280.4 L585.0,289.5 L584.0,300.2 L583.0,309.5 L582.0,307.9 L581.0,308.0 L580.0,305.0 L579.0,308.2 L578.0,309.7 L577.0,308.8 L576.0,312.3 L575.0,310.5 L574.0,312.0 L573.0,303.8 L572.0,310.0 L571.0,310.3 L570.0,302.8 L569.0,295.5 L568.0,287.9 L567.0,294.3 L566.0,299.2 L565.0,309.6 L564.0,309.9 L563.0,312.5 L562.0,317.2 L561.0,307.9 L560.0,308.4 L559.0,311.6 L558.0,311.8 L557.0,312.3 L556.0,312.3 L555.0,317.4 L554.0,312.7 L553.0,301.8 L552.0,288.3 L551.0,284.4 L550.0,297.3 L549.0,305.5 L548.0,318.1 L547.0,312.5 L546.0,315.3 L545.0,315.9 L544.0,321.4 L543.0,322.9 L542.0,321.4 L541.0,315.2 L540.0,317.1 L539.0,311.7 L538.0,308.6 L537.0,309.3 L536.0,309.4 L535.0,315.6 L534.0,317.7 L533.0,314.1 L532.0,310.3 L531.0,312.1 L530.0,309.9 L529.0,311.0 L528.0,312.8 L527.0,311.5 L526.0,309.0 L525.0,316.6 L524.0,316.1 L523.0,314.6 L522.0,314.4 L521.0,317.1 L520.0,316.0 L519.0,314.5 L518.0,313.8 L517.0,321.2 L516.0,301.9 L515.0,290.7 L514.0,306.8 L513.0,315.8 L512.0,315.9 L511.0,317.7 L510.0,307.2 L509.0,297.6 L508.0,311.9 L507.0,319.0 L506.0,316.8 L505.0,318.3 L504.0,318.6 L503.0,321.6 L502.0,318.8 L501.0,319.9 L500.0,317.9 L499.0,319.1 L498.0,319.4 L497.0,321.4 L496.0,308.8 L495.0,296.6 L494.0,321.5 L493.0,334.5 L492.0,334.0 L491.0,330.2 L490.0,320.8 L489.0,328.7 L488.0,329.9 L487.0,331.0 Z" fill="#1b9e77" fill-opacity="0.2"/>
<path d="M487.0,260.1 L488.0,232.1 L489.0,202.0 L490.0,195.9 L491.0,187.7 L492.0,181.4 L493.0,181.1 L494.0,178.7 L495.0,183.5 L496.0,175.0 L497.0,176.4 L498.0,173.1 L499.0,177.4 L500.0,174.9 L501.0,177.8 L502.0,176.9 L503.0,177.9 L504.0,179.9 L505.0,174.5 L506.0,177.7 L507.0,176.1 L508.0,174.6 L509.0,176.4 L510.0,177.8 L511.0,179.8 L512.0,168.9 L513.0,168.1 L514.0,171.4 L515.0,169.0 L516.0,169.5 L517.0,173.2 L518.0,174.8 L519.0,170.9 L520.0,169.5 L521.0,172.4 L522.0,171.1 L523.0,170.2 L524.0,169.5 L525.0,166.5 L526.0,165.3 L527.0,161.2 L528.0,159.9 L529.0,161.6 L530.0,155.9 L531.0,157.4 L532.0,156.5 L533.0,154.1 L534.0,156.4 L535.0,155.3 L536.0,155.0 L537.0,155.9 L538.0,156.2 L539.0,157.8 L540.0,151.6 L541.0,152.0 L542.0,150.3 L543.0,149.6 L544.0,155.2 L545.0,155.1 L546.0,158.6 L547.0,157.6 L548.0,150.7 L549.0,151.9 L550.0,159.7 L551.0,162.9 L552.0,163.1 L553.0,159.3 L554.0,168.3 L555.0,160.9 L556.0,162.9 L557.0,156.7 L558.0,154.8 L559.0,148.8 L560.0,144.9 L561.0,150.5 L562.0,150.3 L563.0,146.7 L564.0,149.3 L565.0,150.4 L566.0,151.1 L567.0,150.1 L568.0,152.9 L569.0,151.5 L570.0,149.4 L571.0,152.7 L572.0,153.7 L573.0,155.2 L574.0,152.9 L575.0,151.1 L576.0,154.1 L577.0,157.8 L578.0,157.5 L579.0,157.4 L580.0,159.2 L581.0,161.9 L582.0,164.9 L583.0,159.0 L584.0,150.2 L585.0,160.2 L586.0,166.9 L587.0,163.4 L588.0,158.8 L589.0,157.4 L590.0,155.2 L591.0,151.3 L592.0,143.8 L593.0,144.6 L594.0,143.4 L595.0,145.2 L596.0,146.8 L597.0,146.0 L598.0,149.2 L599.0,153.3 L600.0,149.0 L601.0,150.9 L602.0,142.8 L603.0,141.5 L604.0,140.8 L605.0,135.1 L606.0,130.1 L607.0,131.3 L608.0,137.3 L609.0,141.7 L610.0,142.0 L611.0,144.2 L612.0,142.3 L613.0,149.3 L614.0,150.8 L615.0,156.3 L616.0,151.1 L617.0,154.2 L618.0,157.0 L619.0,151.9 L620.0,153.9 L621.0,155.2 L622.0,161.3 L623.0,162.0 L624.0,160.5 L625.0,162.6 L626.0,164.0 L627.0,162.8 L628.0,155.6 L629.0,153.4 L630.0,148.3 L631.0,149.1 L632.0,142.1 L633.0,145.5 L634.0,146.2 L635.0,149.3 L636.0,144.6 L637.0,145.0 L638.0,145.4 L639.0,148.8 L640.0,149.1 L641.0,152.4 L642.0,151.0 L643.0,153.0 L644.0,151.7 L645.0,150.7 L646.0,148.4 L647.0,148.7 L648.0,154.3 L649.0,151.9 L650.0,150.3 L651.0,147.3 L652.0,149.3 L653.0,149.6 L654.0,147.0 L655.0,144.4 L656.0,144.2 L657.0,147.9 L658.0,147.5 L659.0,150.8 L660.0,146.8 L661.0,144.4 L662.0,139.6 L663.0,140.1 L664.0,142.8 L665.0,146.3 L666.0,142.9 L667.0,144.0 L668.0,140.2 L669.0,145.9 L670.0,153.5 L671.0,145.2 L672.0,143.4 L673.0,140.5 L674.0,143.8 L675.0,145.9 L676.0,148.3 L677.0,143.4 L678.0,144.3 L679.0,143.7 L680.0,139.7 L681.0,140.9 L682.0,140.2 L683.0,145.8 L684.0,146.8 L685.0,142.6 L686.0,140.9 L687.0,146.0 L688.0,143.7 L689.0,144.9 L690.0,145.7 L691.0,146.7 L692.0,148.0 L693.0,145.2 L694.0,142.6 L695.0,138.9 L696.0,140.4 L697.0,140.9 L698.0,141.2 L699.0,138.9 L700.0,137.0 L701.0,144.4 L702.0,138.4 L703.0,131.0 L704.0,127.3 L705.0,129.7 L706.0,133.8 L707.0,128.7 L708.0,132.8 L709.0,132.6 L710.0,132.4 L711.0,132.8 L712.0,135.0 L713.0,132.1 L714.0,130.4 L715.0,134.2 L716.0,135.1 L717.0,136.0 L718.0,136.0 L719.0,136.4 L720.0,136.5 L721.0,132.5 L722.0,127.4 L723.0,131.0 L724.0,131.2 L725.0,135.2 L726.0,131.7 L727.0,137.3 L728.0,134.2 L729.0,139.5 L730.0,139.3 L731.0,137.2 L732.0,135.8 L733.0,136.7 L734.0,141.6 L735.0,144.5 L736.0,144.6 L737.0,145.1 L738.0,148.2 L739.0,152.1 L740.0,152.4 L741.0,145.8 L742.0,143.9 L743.0,145.0 L744.0,140.4 L745.0,138.1 L746.0,137.3 L747.0,135.1 L748.0,134.1 L749.0,134.4 L750.0,135.4 L751.0,132.8 L752.0,133.1 L753.0,132.3 L754.0,132.8 L755.0,132.4 L756.0,144.6 L757.0,145.8 L758.0,146.5 L759.0,146.8 L760.0,141.5 L761.0,142.1 L762.0,138.8 L763.0,140.0 L764.0,140.0 L765.0,142.8 L766.0,133.5 L767.0,134.4 L768.0,136.8 L769.0,134.3 L770.0,135.2 L771.0,138.4 L772.0,137.0 L773.0,139.4 L774.0,134.2 L775.0,135.3 L776.0,130.3 L777.0,127.0 L778.0,127.2 L779.0,128.4 L780.0,128.9 L781.0,127.2 L782.0,131.7 L783.0,131.0 L784.0,130.2 L785.0,130.1 L786.0,135.6 L787.0,139.8 L788.0,136.6 L789.0,136.7 L790.0,135.1 L791.0,136.1 L792.0,140.1 L793.0,137.2 L794.0,131.0 L795.0,123.7 L796.0,133.2 L797.0,128.6 L798.0,129.5 L799.0,128.2 L800.0,128.4 L801.0,125.7 L802.0,118.1 L803.0,121.5 L804.0,122.9 L805.0,127.2 L806.0,121.3 L807.0,121.7 L808.0,120.8 L809.0,119.0 L810.0,121.0 L811.0,125.3 L812.0,123.1 L813.0,119.1 L814.0,120.7 L815.0,124.7 L816.0,125.7 L817.0,128.5 L818.0,123.6 L819.0,124.6 L820.0,126.0 L821.0,125.0 L822.0,123.7 L823.0,122.1 L824.0,125.9 L825.0,123.2 L826.0,121.8 L827.0,123.8 L828.0,122.3 L829.0,125.9 L830.0,122.9 L831.0,121.4 L832.0,123.4 L833.0,129.1 L834.0,127.3 L835.0,123.6 L836.0,124.4 L837.0,122.8 L838.0,119.1 L839.0,119.8 L840.0,121.2 L841.0,125.3 L842.0,127.9 L843.0,131.0 L844.0,132.1 L845.0,130.2 L846.0,128.9 L847.0,128.2 L848.0,133.9 L849.0,129.3 L850.0,127.9 L851.0,131.0 L852.0,133.9 L853.0,129.3 L854.0,132.8 L855.0,132.2 L856.0,132.5 L857.0,133.9 L858.0,134.1 L859.0,131.8 L860.0,131.3 L861.0,127.5 L862.0,126.9 L863.0,132.2 L864.0,132.4 L865.0,128.2 L866.0,126.4 L867.0,125.8 L868.0,127.5 L869.0,132.7 L870.0,133.9 L871.0,133.0 L872.0,133.6 L873.0,129.5 L874.0,125.4 L875.0,124.8 L876.0,126.5 L877.0,127.6 L878.0,128.5 L879.0,126.5 L880.0,126.5 L881.0,135.4 L882.0,129.1 L883.0,131.0 L884.0,130.9 L885.0,129.9 L886.0,126.3 L887.0,128.2 L888.0,126.4 L889.0,129.6 L890.0,129.9 L891.0,131.8 L892.0,131.2 L893.0,130.7 L894.0,127.6 L895.0,127.1 L896.0,129.4 L897.0,128.4 L898.0,126.9 L899.0,130.7 L900.0,127.0 L901.0,130.7 L902.0,132.1 L903.0,132.3 L904.0,133.6 L905.0,141.8 L906.0,141.6 L907.0,141.9 L908.0,142.7 L909.0,139.6 L910.0,139.1 L911.0,140.9 L912.0,138.8 L913.0,141.2 L914.0,140.6 L915.0,143.6 L916.0,141.7 L917.0,142.4 L918.0,145.6 L919.0,145.5 L920.0,143.3 L921.0,144.2 L922.0,148.7 L923.0,149.5 L924.0,146.6 L925.0,147.7 L926.0,145.4 L927.0,139.8 L928.0,142.5 L929.0,147.6 L930.0,149.0 L931.0,148.0 L932.0,142.5 L933.0,146.5 L934.0,143.6 L935.0,145.5 L936.0,145.9 L937.0,143.9 L938.0,142.4 L939.0,137.2 L940.0,137.6 L941.0,135.6 L942.0,132.5 L943.0,134.4 L944.0,131.2 L945.0,128.1 L946.0,129.8 L947.0,127.0 L948.0,125.3 L949.0,124.6 L950.0,125.8 L951.0,131.1 L952.0,128.7 L953.0,133.1 L954.0,130.1 L955.0,132.6 L956.0,129.1 L957.0,133.3 L958.0,135.6 L959.0,136.9 L960.0,140.5 L961.0,140.2 L962.0,139.9 L963.0,136.4 L964.0,140.4 L965.0,139.2 L966.0,140.0 L967.0,147.5 L968.0,148.5 L969.0,147.7 L970.0,151.1 L971.0,145.9 L972.0,145.8 L973.0,140.9 L974.0,141.6 L975.0,144.2 L976.0,145.6 L977.0,145.8 L978.0,144.9 L979.0,142.5 L980.0,142.2 L981.0,146.3 L982.0,147.5 L983.0,142.0 L984.0,142.5 L985.0,144.6 L986.0,143.3 L987.0,141.3 L988.0,140.3 L989.0,135.9 L990.0,135.7 L991.0,132.9 L992.0,131.3 L993.0,127.2 L994.0,122.9 L995.0,126.8 L996.0,125.9 L997.0,130.0 L998.0,128.7 L999.0,132.7 L1000.0,137.3 L1001.0,136.8 L1002.0,140.1 L1003.0,135.3 L1004.0,130.8 L1005.0,131.0 L1006.0,127.1 L1007.0,125.5 L1008.0,127.9 L1009.0,122.6 L1010.0,124.5 L1011.0,120.1 L1012.0,119.9 L1013.0,115.6 L1014.0,117.9 L1015.0,116.0 L1016.0,112.3 L1017.0,113.7 L1018.0,115.7 L1019.0,117.4 L1020.0,118.7 L1021.0,116.3 L1022.0,118.4 L1023.0,119.8 L1024.0,118.4 L1025.0,119.3 L1026.0,116.4 L1027.0,120.6 L1028.0,114.4 L1029.0,109.7 L1030.0,108.9 L1031.0,111.2 L1032.0,103.3 L1033.0,106.6 L1034.0,105.9 L1035.0,107.1 L1036.0,115.5 L1037.0,120.1 L1038.0,123.3 L1039.0,125.9 L1040.0,123.3 L1041.0,120.7 L1042.0,119.2 L1043.0,114.9 L1044.0,116.2 L1045.0,116.5 L1046.0,117.2 L1047.0,118.4 L1048.0,116.4 L1049.0,114.2 L1050.0,115.9 L1051.0,113.3 L1052.0,112.4 L1053.0,118.5 L1054.0,122.6 L1055.0,122.8 L1056.0,117.4 L1057.0,121.8 L1058.0,124.3 L1059.0,122.8 L1060.0,124.3 L1061.0,126.6 L1062.0,120.6 L1063.0,119.5 L1064.0,125.2 L1065.0,117.8 L1066.0,120.0 L1067.0,121.0 L1068.0,122.4 L1069.0,126.4 L1070.0,128.3 L1071.0,126.0 L1072.0,124.6 L1073.0,124.4 L1074.0,123.5 L1075.0,121.2 L1076.0,117.8 L1077.0,118.9 L1078.0,117.0 L1079.0,117.6 L1080.0,123.6 L1081.0,123.4 L1082.0,120.4 L1083.0,119.4 L1084.0,117.2 L1085.0,118.4 L1086.0,117.7 L1087.0,121.6 L1088.0,123.5 L1089.0,126.8 L1090.0,125.0 L1091.0,134.6 L1092.0,138.0 L1093.0,138.3 L1094.0,137.0 L1095.0,139.9 L1096.0,143.3 L1097.0,145.1 L1098.0,141.8 L1099.0,135.9 L1100.0,131.0 L1101.0,132.4 L1102.0,131.3 L1103.0,133.3 L1104.0,130.4 L1105.0,132.5 L1106.0,129.4 L1107.0,129.0 L1108.0,127.7 L1109.0,124.3 L1110.0,120.0 L1111.0,126.7 L1112.0,122.3 L1113.0,126.4 L1114.0,126.7 L1115.0,130.6 L1116.0,128.2 L1117.0,132.9 L1118.0,130.9 L1119.0,129.1 L1120.0,130.3 L1121.0,129.1 L1122.0,133.2 L1123.0,135.7 L1124.0,136.0 L1125.0,137.0 L1126.0,136.9 L1127.0,132.5 L1128.0,133.4 L1129.0,134.3 L1130.0,132.2 L1131.0,133.2 L1132.0,129.3 L1133.0,130.1 L1134.0,130.3 L1135.0,128.9 L1136.0,129.5 L1137.0,131.3 L1138.0,132.7 L1139.0,132.2 L1140.0,133.8 L1141.0,132.1 L1142.0,133.6 L1142.0,260.6 L1141.0,259.0 L1140.0,257.5 L1139.0,258.7 L1138.0,253.1 L1137.0,256.7 L1136.0,255.3 L1135.0,252.9 L1134.0,252.4 L1133.0,256.8 L1132.0,254.6 L1131.0,255.2 L1130.0,259.3 L1129.0,256.3 L1128.0,258.5 L1127.0,258.4 L1126.0,258.3 L1125.0,255.6 L1124.0,257.8 L1123.0,259.0 L1122.0,256.0 L1121.0,258.9 L1120.0,261.1 L1119.0,260.0 L1118.0,258.2 L1117.0,257.3 L1116.0,262.7 L1115.0,262.0 L1114.0,260.2 L1113.0,261.9 L1112.0,258.1 L1111.0,260.9 L1110.0,261.0 L1109.0,258.3 L1108.0,254.2 L1107.0,249.1 L1106.0,254.7 L1105.0,257.8 L1104.0,254.5 L1103.0,257.4 L1102.0,257.5 L1101.0,253.8 L1100.0,259.8 L1099.0,257.3 L1098.0,257.8 L1097.0,262.8 L1096.0,265.9 L1095.0,270.3 L1094.0,262.0 L1093.0,259.9 L1092.0,258.2 L1091.0,255.1 L1090.0,255.3 L1089.0,251.2 L1088.0,242.9 L1087.0,247.5 L1086.0,245.4 L1085.0,247.0 L1084.0,246.7 L1083.0,247.8 L1082.0,250.9 L1081.0,253.0 L1080.0,257.6 L1079.0,260.2 L1078.0,259.3 L1077.0,256.9 L1076.0,256.3 L1075.0,256.1 L1074.0,253.7 L1073.0,254.5 L1072.0,253.6 L1071.0,255.3 L1070.0,253.8 L1069.0,254.7 L1068.0,249.6 L1067.0,250.7 L1066.0,246.4 L1065.0,247.4 L1064.0,252.1 L1063.0,251.5 L1062.0,252.1 L1061.0,253.9 L1060.0,255.4 L1059.0,256.3 L1058.0,255.4 L1057.0,257.1 L1056.0,253.4 L1055.0,249.4 L1054.0,247.4 L1053.0,247.2 L1052.0,254.5 L1051.0,248.0 L1050.0,246.3 L1049.0,246.6 L1048.0,250.0 L1047.0,247.9 L1046.0,247.6 L1045.0,246.5 L1044.0,247.7 L1043.0,249.8 L1042.0,246.9 L1041.0,245.8 L1040.0,241.2 L1039.0,239.2 L1038.0,240.9 L1037.0,239.7 L1036.0,244.4 L1035.0,242.9 L1034.0,241.9 L1033.0,237.8 L1032.0,236.5 L1031.0,238.4 L1030.0,241.2 L1029.0,240.5 L1028.0,246.6 L1027.0,245.7 L1026.0,246.4 L1025.0,243.7 L1024.0,242.7 L1023.0,242.9 L1022.0,244.0 L1021.0,244.0 L1020.0,243.9 L1019.0,244.5 L1018.0,241.1 L1017.0,244.3 L1016.0,243.8 L1015.0,242.8 L1014.0,246.0 L1013.0,253.9 L1012.0,254.9 L1011.0,254.2 L1010.0,256.9 L1009.0,260.2 L1008.0,268.0 L1007.0,273.9 L1006.0,272.6 L1005.0,269.7 L1004.0,271.9 L1003.0,271.3 L1002.0,269.3 L1001.0,269.0 L1000.0,262.3 L999.0,260.4 L998.0,261.1 L997.0,263.5 L996.0,267.1 L995.0,265.5 L994.0,265.8 L993.0,270.9 L992.0,272.4 L991.0,273.8 L990.0,276.6 L989.0,278.5 L988.0,281.6 L987.0,280.1 L986.0,278.5 L985.0,281.6 L984.0,280.0 L983.0,277.5 L982.0,281.4 L981.0,281.2 L980.0,284.7 L979.0,290.6 L978.0,289.5 L977.0,288.5 L976.0,288.5 L975.0,290.0 L974.0,285.1 L973.0,279.1 L972.0,281.3 L971.0,279.3 L970.0,284.0 L969.0,282.4 L968.0,281.9 L967.0,282.5 L966.0,281.2 L965.0,283.0 L964.0,279.0 L963.0,281.6 L962.0,282.3 L961.0,281.2 L960.0,284.9 L959.0,281.0 L958.0,282.5 L957.0,284.6 L956.0,279.5 L955.0,279.0 L954.0,277.3 L953.0,270.2 L952.0,269.9 L951.0,265.2 L950.0,262.7 L949.0,268.5 L948.0,271.1 L947.0,279.0 L946.0,277.4 L945.0,283.2 L944.0,287.2 L943.0,285.5 L942.0,288.2 L941.0,286.7 L940.0,288.1 L939.0,284.5 L938.0,278.4 L937.0,284.3 L936.0,283.8 L935.0,285.7 L934.0,286.9 L933.0,284.2 L932.0,281.4 L931.0,279.5 L930.0,282.4 L929.0,283.8 L928.0,282.8 L927.0,278.1 L926.0,279.2 L925.0,278.3 L924.0,275.9 L923.0,279.4 L922.0,279.8 L921.0,275.2 L920.0,273.3 L919.0,271.1 L918.0,271.8 L917.0,275.7 L916.0,273.5 L915.0,276.8 L914.0,275.7 L913.0,277.7 L912.0,277.8 L911.0,279.7 L910.0,275.4 L909.0,275.1 L908.0,270.9 L907.0,270.6 L906.0,276.1 L905.0,274.6 L904.0,277.7 L903.0,277.8 L902.0,283.7 L901.0,279.1 L900.0,279.5 L899.0,281.0 L898.0,279.0 L897.0,276.7 L896.0,279.1 L895.0,276.0 L894.0,270.4 L893.0,270.7 L892.0,271.5 L891.0,272.3 L890.0,270.8 L889.0,269.8 L888.0,267.5 L887.0,265.0 L886.0,268.2 L885.0,271.5 L884.0,273.6 L883.0,270.5 L882.0,268.0 L881.0,270.1 L880.0,268.9 L879.0,268.5 L878.0,267.3 L877.0,270.3 L876.0,267.1 L875.0,266.2 L874.0,268.8 L873.0,269.3 L872.0,263.8 L871.0,262.2 L870.0,262.5 L869.0,267.0 L868.0,267.2 L867.0,267.3 L866.0,266.2 L865.0,266.3 L864.0,268.8 L863.0,265.8 L862.0,269.8 L861.0,272.2 L860.0,268.9 L859.0,266.2 L858.0,268.6 L857.0,276.2 L856.0,278.5 L855.0,279.6 L854.0,280.0 L853.0,279.4 L852.0,274.2 L851.0,269.8 L850.0,266.6 L849.0,272.1 L848.0,266.4 L847.0,265.8 L846.0,264.9 L845.0,262.2 L844.0,259.2 L843.0,257.7 L842.0,256.7 L841.0,257.5 L840.0,257.6 L839.0,257.2 L838.0,257.4 L837.0,255.4 L836.0,259.0 L835.0,264.1 L834.0,258.8 L833.0,265.2 L832.0,262.9 L831.0,262.4 L830.0,259.4 L829.0,260.5 L828.0,258.6 L827.0,256.6 L826.0,259.7 L825.0,261.6 L824.0,261.4 L823.0,262.6 L822.0,262.0 L821.0,263.7 L820.0,264.8 L819.0,266.8 L818.0,264.7 L817.0,268.6 L816.0,265.4 L815.0,264.7 L814.0,265.2 L813.0,271.0 L812.0,271.8 L811.0,266.6 L810.0,267.7 L809.0,267.8 L808.0,269.5 L807.0,265.4 L806.0,265.9 L805.0,264.2 L804.0,264.7 L803.0,260.6 L802.0,265.9 L801.0,265.7 L800.0,262.8 L799.0,270.6 L798.0,274.9 L797.0,268.4 L796.0,269.9 L795.0,271.9 L794.0,274.2 L793.0,271.9 L792.0,274.7 L791.0,276.0 L790.0,274.4 L789.0,272.2 L788.0,279.5 L787.0,280.6 L786.0,278.9 L785.0,279.3 L784.0,275.4 L783.0,274.0 L782.0,274.5 L781.0,274.0 L780.0,272.0 L779.0,276.3 L778.0,272.3 L777.0,274.3 L776.0,276.9 L775.0,280.0 L774.0,275.7 L773.0,276.4 L772.0,279.5 L771.0,278.5 L770.0,280.7 L769.0,283.1 L768.0,278.3 L767.0,278.9 L766.0,284.1 L765.0,285.2 L764.0,283.9 L763.0,280.8 L762.0,282.0 L761.0,282.4 L760.0,281.7 L759.0,277.1 L758.0,283.6 L757.0,278.0 L756.0,277.7 L755.0,276.9 L754.0,278.2 L753.0,277.0 L752.0,278.8 L751.0,281.3 L750.0,281.3 L749.0,282.6 L748.0,279.4 L747.0,276.0 L746.0,280.8 L745.0,277.6 L744.0,277.0 L743.0,279.9 L742.0,272.6 L741.0,278.5 L740.0,279.7 L739.0,279.0 L738.0,282.6 L737.0,286.5 L736.0,293.3 L735.0,297.0 L734.0,292.7 L733.0,295.9 L732.0,290.1 L731.0,292.2 L730.0,284.0 L729.0,275.8 L728.0,271.1 L727.0,270.2 L726.0,271.2 L725.0,273.2 L724.0,274.5 L723.0,272.6 L722.0,268.3 L721.0,265.9 L720.0,266.7 L719.0,271.1 L718.0,266.6 L717.0,263.9 L716.0,264.5 L715.0,262.7 L714.0,261.1 L713.0,269.0 L712.0,266.4 L711.0,269.1 L710.0,269.7 L709.0,274.0 L708.0,276.2 L707.0,279.8 L706.0,281.6 L705.0,291.4 L704.0,287.7 L703.0,289.6 L702.0,291.1 L701.0,294.4 L700.0,295.2 L699.0,290.9 L698.0,291.5 L697.0,293.3 L696.0,292.9 L695.0,295.5 L694.0,295.5 L693.0,299.1 L692.0,299.5 L691.0,300.5 L690.0,300.0 L689.0,299.5 L688.0,300.8 L687.0,301.3 L686.0,300.9 L685.0,301.3 L684.0,297.2 L683.0,301.3 L682.0,298.9 L681.0,304.1 L680.0,305.2 L679.0,303.9 L678.0,304.0 L677.0,307.3 L676.0,305.7 L675.0,308.4 L674.0,312.2 L673.0,301.7 L672.0,294.3 L671.0,287.1 L670.0,298.0 L669.0,302.0 L668.0,305.0 L667.0,303.5 L666.0,302.3 L665.0,295.0 L664.0,287.2 L663.0,271.5 L662.0,290.7 L661.0,306.6 L660.0,306.0 L659.0,308.6 L658.0,309.2 L657.0,306.2 L656.0,305.3 L655.0,307.9 L654.0,307.5 L653.0,307.5 L652.0,303.1 L651.0,303.2 L650.0,307.3 L649.0,305.7 L648.0,306.6 L647.0,309.4 L646.0,299.8 L645.0,296.4 L644.0,302.9 L643.0,315.3 L642.0,309.9 L641.0,310.3 L640.0,310.9 L639.0,300.4 L638.0,282.7 L637.0,293.4 L636.0,304.6 L635.0,306.7 L634.0,311.4 L633.0,315.7 L632.0,313.8 L631.0,313.4 L630.0,310.7 L629.0,311.7 L628.0,308.5 L627.0,302.2 L626.0,306.1 L625.0,309.5 L624.0,302.2 L623.0,296.1 L622.0,302.6 L621.0,309.4 L620.0,311.9 L619.0,311.9 L618.0,311.8 L617.0,310.4 L616.0,311.3 L615.0,308.3 L614.0,308.0 L613.0,312.7 L612.0,309.6 L611.0,308.9 L610.0,309.5 L609.0,308.3 L608.0,309.0 L607.0,309.0 L606.0,315.4 L605.0,318.6 L604.0,316.2 L603.0,316.7 L602.0,300.2 L601.0,290.0 L600.0,277.4 L599.0,286.9 L598.0,297.3 L597.0,312.1 L596.0,313.1 L595.0,317.6 L594.0,311.5 L593.0,314.5 L592.0,311.8 L591.0,314.0 L590.0,312.4 L589.0,310.7 L588.0,315.5 L587.0,315.4 L586.0,315.0 L585.0,303.8 L584.0,290.9 L583.0,276.1 L582.0,294.8 L581.0,307.6 L580.0,316.1 L579.0,321.0 L578.0,316.6 L577.0,315.3 L576.0,314.2 L575.0,315.1 L574.0,315.0 L573.0,313.0 L572.0,314.3 L571.0,310.0 L570.0,311.9 L569.0,312.6 L568.0,318.7 L567.0,316.3 L566.0,317.6 L565.0,316.6 L564.0,311.1 L563.0,315.0 L562.0,312.2 L561.0,311.6 L560.0,309.7 L559.0,311.0 L558.0,309.2 L557.0,309.5 L556.0,309.8 L555.0,309.8 L554.0,309.2 L553.0,307.8 L552.0,308.5 L551.0,312.2 L550.0,311.7 L549.0,308.9 L548.0,313.7 L547.0,312.5 L546.0,317.5 L545.0,316.4 L544.0,316.7 L543.0,315.1 L542.0,314.4 L541.0,314.5 L540.0,304.5 L539.0,291.3 L538.0,303.8 L537.0,314.6 L536.0,318.0 L535.0,316.5 L534.0,306.0 L533.0,291.7 L532.0,308.5 L531.0,314.7 L530.0,317.0 L529.0,317.3 L528.0,312.3 L527.0,314.8 L526.0,315.9 L525.0,317.7 L524.0,305.1 L523.0,292.1 L522.0,306.5 L521.0,302.6 L520.0,287.8 L519.0,303.9 L518.0,318.2 L517.0,320.4 L516.0,317.8 L515.0,318.1 L514.0,318.0 L513.0,311.6 L512.0,311.2 L511.0,314.3 L510.0,318.5 L509.0,317.3 L508.0,319.1 L507.0,317.8 L506.0,316.5 L505.0,321.6 L504.0,324.4 L503.0,320.3 L502.0,319.1 L501.0,319.5 L500.0,316.6 L499.0,306.2 L498.0,297.0 L497.0,307.2 L496.0,319.4 L495.0,326.9 L494.0,330.1 L493.0,330.4 L492.0,327.6 L491.0,325.7 L490.0,332.1 L489.0,336.4 L488.0,339.9 L487.0,334.9 Z" fill="#7570b3" fill-opacity="0.2"/>
<polyline points="487.0,279.5 487.6,278.6 488.2,273.1 488.8,267.3 489.4,264.8 490.0,260.2 490.6,256.0 491.2,257.9 491.8,257.1 492.4,252.9 493.0,251.1 493.6,248.6 494.2,246.5 494.8,247.8 495.4,245.3 496.0,246.4 496.6,244.1 497.2,245.1 497.8,246.1 498.4,245.5 499.0,246.3 499.6,247.9 500.2,245.8 500.8,247.4 501.4,246.8 502.0,243.7 502.6,242.9 503.2,242.2 503.8,240.5 504.4,237.0 505.0,236.4 505.6,235.7 506.2,234.7 506.8,235.4 507.4,234.5 508.0,234.0 508.6,234.0 509.2,234.6 509.8,236.8 510.4,236.3 511.0,236.5 511.6,236.6 512.2,236.4 512.8,239.1 513.4,239.9 514.0,240.8 514.6,241.8 515.2,243.2 515.8,242.8 516.4,242.9 517.0,240.2 517.6,241.9 518.2,239.4 518.8,239.8 519.4,237.7 520.0,234.0 520.6,234.7 521.2,233.6 521.8,233.0 522.4,234.6 523.0,232.3 523.6,235.2 524.2,238.4 524.8,237.9 525.4,238.7 526.0,240.7 526.6,240.3 527.2,241.0 527.8,238.3 528.4,236.2 529.0,232.6 529.6,231.3 530.2,229.4 530.8,228.7 531.4,227.9 532.0,228.1 532.6,227.4 533.2,227.8 533.8,225.3 534.4,224.4 535.0,223.5 535.6,223.2 536.2,224.2 536.8,223.2 537.4,224.4 538.0,227.2 538.6,228.4 539.2,231.8 539.8,231.3 540.4,228.9 541.0,229.3 541.6,227.2 542.2,227.5 542.8,227.2 543.4,225.5 544.0,225.7 544.6,226.4 545.2,225.2 545.8,228.6 546.4,227.5 547.0,228.0 547.6,228.9 548.2,229.4 548.8,230.7 549.4,230.6 550.0,232.2 550.6,233.7 551.2,232.6 551.8,234.1 552.4,235.3 553.0,236.4 553.6,235.7 554.2,234.3 554.8,236.0 555.4,236.1 556.0,231.4 556.6,229.0 557.2,226.6 557.8,223.9 558.4,222.9 559.0,226.3 559.6,228.1 560.2,226.8 560.8,226.3 561.4,228.2 562.0,228.8 562.6,229.5 563.2,228.4 563.8,230.5 564.4,230.2 565.0,230.2 565.6,230.0 566.2,230.9 566.8,235.6 567.4,232.4 568.0,233.0 568.6,232.6 569.2,231.9 569.8,234.5 570.4,235.6 571.0,235.3 571.6,236.5 572.2,237.8 572.8,238.5 573.4,238.1 574.0,236.9 574.6,239.4 575.2,236.6 575.8,233.9 576.4,234.0 577.0,230.0 577.6,231.8 578.2,229.6 578.8,228.2 579.4,229.6 580.0,226.9 580.6,223.9 581.2,222.4 581.8,221.9 582.4,218.5 583.0,218.4 583.6,218.1 584.2,221.0 584.8,222.3 585.4,221.2 586.0,220.0 586.6,220.2 587.2,219.1 587.8,218.4 588.4,220.5 589.0,219.2 589.6,220.6 590.2,222.1 590.8,223.1 591.4,222.6 592.0,224.1 592.6,224.4 593.2,222.1 593.8,223.0 594.4,222.8 595.0,222.0 595.6,222.1 596.2,221.4 596.8,219.0 597.4,217.3 598.0,215.2 598.6,215.1 599.2,213.0 599.8,212.3 600.4,211.7 601.0,207.7 601.6,208.2 602.2,210.0 602.8,210.1 603.4,208.8 604.0,208.3 604.6,207.5 605.2,207.5 605.8,206.3 606.4,207.6 607.0,206.4 607.6,208.5 608.2,207.9 608.8,212.3 609.4,212.8 610.0,215.2 610.6,217.3 611.2,217.1 611.8,219.7 612.4,219.5 613.0,220.2 613.6,224.4 614.2,224.7 614.8,225.6 615.4,228.3 616.0,230.6 616.6,233.8 617.2,233.2 617.8,229.8 618.4,231.2 619.0,229.2 619.6,227.1 620.2,226.2 620.8,227.4 621.4,225.1 622.0,221.9 622.6,220.5 623.2,219.5 623.8,217.7 624.4,219.0 625.0,220.1 625.6,216.1 626.2,213.9 626.8,212.0 627.4,214.1 628.0,213.6 628.6,211.9 629.2,213.0 629.8,210.8 630.4,208.4 631.0,210.1 631.6,209.7 632.2,209.6 632.8,208.0 633.4,207.6 634.0,207.5 634.6,205.3 635.2,204.1 635.8,205.5 636.4,205.7 637.0,207.0 637.6,209.9 638.2,211.7 638.8,214.5 639.4,216.5 640.0,217.3 640.6,218.0 641.2,220.4 641.8,221.2 642.4,221.4 643.0,222.2 643.6,224.6 644.2,223.1 644.8,221.4 645.4,220.5 646.0,219.0 646.6,218.5 647.2,216.0 647.8,215.7 648.4,214.8 649.0,215.6 649.6,217.7 650.2,217.9 650.8,218.7 651.4,218.8 652.0,220.6 652.6,223.2 653.2,226.5 653.8,229.2 654.4,233.2 655.0,232.7 655.6,234.6 656.2,238.7 656.8,238.6 657.4,236.0 658.0,233.1 658.6,232.2 659.2,227.8 659.8,226.5 660.4,225.3 661.0,223.6 661.6,224.4 662.2,223.4 662.8,218.5 663.4,220.2 664.0,217.5 664.6,216.1 665.2,215.4 665.8,216.4 666.4,216.9 667.0,215.5 667.6,214.6 668.2,217.2 668.8,215.5 669.4,217.9 670.0,220.7 670.6,218.8 671.2,216.7 671.8,216.8 672.4,217.6 673.0,217.7 673.6,219.9 674.2,220.3 674.8,220.4 675.4,220.6 676.0,220.8 676.6,222.3 677.2,223.1 677.8,225.5 678.4,224.6 679.0,223.4 679.6,222.1 680.2,222.8 680.8,220.3 681.4,218.5 682.0,217.8 682.6,216.2 683.2,216.3 683.8,213.8 684.4,215.9 685.0,217.7 685.6,215.6 686.2,214.9 686.8,214.6 687.4,215.9 688.0,216.6 688.6,216.1 689.2,217.1 689.8,215.4 690.4,215.0 691.0,216.3 691.6,214.2 692.2,215.1 692.8,215.2 693.4,214.3 694.0,216.6 694.6,215.8 695.2,214.2 695.8,214.5 696.4,216.0 697.0,214.1 697.6,214.0 698.2,215.7 698.8,210.5 699.4,208.2 700.0,206.2 700.6,202.3 701.2,202.4 701.8,201.6 702.4,200.2 703.0,200.3 703.6,201.6 704.2,199.7 704.8,202.2 705.4,203.9 706.0,204.7 706.6,209.4 707.2,206.6 707.8,205.9 708.4,205.1 709.0,204.2 709.6,204.7 710.2,205.2 710.8,203.9 711.4,205.0 712.0,203.2 712.6,202.6 713.2,203.4 713.8,205.2 714.4,204.9 715.0,203.4 715.6,200.7 716.2,200.7 716.8,201.3 717.4,201.6 718.0,199.4 718.6,198.5 719.2,198.1 719.8,196.4 720.4,195.7 721.0,196.5 721.6,194.7 722.2,193.2 722.8,195.7 723.4,196.9 724.0,193.5 724.6,196.1 725.2,196.2 725.8,198.3 726.4,199.8 727.0,206.2 727.6,207.7 728.2,209.6 728.8,212.7 729.4,212.0 730.0,213.0 730.6,218.0 731.2,218.4 731.8,220.1 732.4,223.1 733.0,220.7 733.6,224.8 734.2,229.3 734.8,230.0 735.4,229.8 736.0,226.4 736.6,222.0 737.2,222.8 737.8,221.3 738.4,219.2 739.0,219.1 739.6,218.5 740.2,214.8 740.8,212.6 741.4,209.5 742.0,208.1 742.6,208.9 743.2,208.8 743.8,210.6 744.4,209.8 745.0,211.5 745.6,211.8 746.2,208.7 746.8,211.4 747.4,211.1 748.0,211.2 748.6,207.8 749.2,208.5 749.8,210.1 750.4,208.9 751.0,209.4 751.6,211.7 752.2,208.1 752.8,208.1 753.4,206.0 754.0,207.4 754.6,205.5 755.2,204.3 755.8,204.7 756.4,205.7 757.0,207.6 757.6,207.2 758.2,207.6 758.8,205.4 759.4,205.1 760.0,207.2 760.6,204.5 761.2,207.7 761.8,207.7 762.4,207.0 763.0,208.2 763.6,206.6 764.2,209.1 764.8,207.8 765.4,207.5 766.0,211.6 766.6,211.5 767.2,210.4 767.8,213.5 768.4,214.8 769.0,212.9 769.6,211.3 770.2,211.7 770.8,211.2 771.4,209.3 772.0,209.1 772.6,209.5 773.2,211.1 773.8,211.7 774.4,212.7 775.0,213.0 775.6,213.9 776.2,213.0 776.8,214.1 777.4,213.9 778.0,214.3 778.6,212.7 779.2,213.4 779.8,213.5 780.4,215.0 781.0,211.2 781.6,209.0 782.2,207.2 782.8,207.3 783.4,208.6 784.0,206.0 784.6,203.8 785.2,202.9 785.8,203.3 786.4,203.9 787.0,205.4 787.6,203.9 788.2,202.3 788.8,201.5 789.4,201.3 790.0,201.9 790.6,200.6 791.2,200.0 791.8,199.5 792.4,199.2 793.0,197.8 793.6,197.6 794.2,198.7 794.8,198.1 795.4,196.1 796.0,193.1 796.6,195.3 797.2,195.7 797.8,196.5 798.4,198.1 799.0,198.3 799.6,195.3 800.2,196.8 800.8,202.6 801.4,200.8 802.0,203.3 802.6,204.6 803.2,203.7 803.8,203.9 804.4,204.3 805.0,203.1 805.6,201.4 806.2,200.7 806.8,198.3 807.4,199.1 808.0,199.2 808.6,201.3 809.2,199.1 809.8,201.8 810.4,199.3 811.0,199.0 811.6,199.7 812.2,201.4 812.8,201.9 813.4,204.1 814.0,203.0 814.6,201.7 815.2,200.0 815.8,201.4 816.4,201.2 817.0,203.2 817.6,204.6 818.2,203.9 818.8,202.8 819.4,202.9 820.0,205.9 820.6,206.5 821.2,206.3 821.8,208.9 822.4,209.4 823.0,212.5 823.6,214.8 824.2,215.2 824.8,216.8 825.4,218.4 826.0,221.5 826.6,218.3 827.2,222.2 827.8,221.4 828.4,221.4 829.0,221.8 829.6,222.1 830.2,221.6 830.8,222.3 831.4,222.1 832.0,218.1 832.6,219.1 833.2,217.5 833.8,215.6 834.4,210.4 835.0,208.8 835.6,207.4 836.2,207.0 836.8,206.0 837.4,202.5 838.0,199.8 838.6,198.0 839.2,195.6 839.8,193.1 840.4,193.2 841.0,189.9 841.6,189.6 842.2,190.9 842.8,190.8 843.4,191.5 844.0,193.7 844.6,193.6 845.2,195.6 845.8,196.6 846.4,197.0 847.0,198.9 847.6,196.7 848.2,197.1 848.8,198.8 849.4,196.7 850.0,198.3 850.6,197.9 851.2,200.6 851.8,202.5 852.4,203.1 853.0,203.0 853.6,203.7 854.2,204.3 854.8,205.0 855.4,204.9 856.0,206.4 856.6,209.4 857.2,208.7 857.8,209.9 858.4,210.2 859.0,208.4 859.6,211.4 860.2,212.4 860.8,212.0 861.4,212.4 862.0,208.9 862.6,208.1 863.2,209.0 863.8,210.4 864.4,209.8 865.0,207.5 865.6,209.2 866.2,207.0 866.8,204.6 867.4,205.3 868.0,206.1 868.6,204.9 869.2,204.4 869.8,200.4 870.4,199.5 871.0,199.0 871.6,199.4 872.2,199.1 872.8,198.7 873.4,198.0 874.0,200.5 874.6,201.5 875.2,200.7 875.8,200.9 876.4,201.4 877.0,200.5 877.6,201.7 878.2,201.8 878.8,201.8 879.4,197.8 880.0,196.0 880.6,196.1 881.2,195.1 881.8,196.7 882.4,196.8 883.0,197.5 883.6,198.9 884.2,196.9 884.8,195.6 885.4,194.3 886.0,196.2 886.6,194.8 887.2,196.0 887.8,193.2 888.4,193.5 889.0,194.5 889.6,198.2 890.2,200.4 890.8,201.5 891.4,204.2 892.0,202.4 892.6,206.0 893.2,205.1 893.8,202.2 894.4,203.1 895.0,204.2 895.6,204.3 896.2,203.6 896.8,202.3 897.4,201.7 898.0,202.3 898.6,202.6 899.2,206.0 899.8,208.1 900.4,209.2 901.0,209.3 901.6,208.0 902.2,210.0 902.8,207.3 903.4,209.5 904.0,211.9 904.6,212.5 905.2,213.0 905.8,213.7 906.4,212.9 907.0,212.3 907.6,212.7 908.2,215.3 908.8,213.6 909.4,212.8 910.0,213.1 910.6,213.0 911.2,215.8 911.8,216.2 912.4,216.8 913.0,218.6 913.6,216.9 914.2,215.8 914.8,215.5 915.4,218.7 916.0,218.6 916.6,217.0 917.2,218.4 917.8,217.0 918.4,217.5 919.0,217.8 919.6,216.6 920.2,214.2 920.8,215.2 921.4,213.5 922.0,213.4 922.6,215.5 923.2,214.5 923.8,217.0 924.4,215.3 925.0,217.5 925.6,216.5 926.2,214.6 926.8,217.5 927.4,216.9 928.0,215.7 928.6,215.9 929.2,213.2 929.8,214.0 930.4,215.0 931.0,213.3 931.6,214.0 932.2,212.2 932.8,211.8 933.4,212.5 934.0,209.3 934.6,212.8 935.2,212.9 935.8,213.1 936.4,215.0 937.0,216.5 937.6,217.5 938.2,216.4 938.8,211.9 939.4,214.4 940.0,214.3 940.6,215.1 941.2,221.7 941.8,222.9 942.4,223.3 943.0,225.9 943.6,229.4 944.2,232.3 944.8,228.6 945.4,225.3 946.0,220.5 946.6,219.7 947.2,213.5 947.8,212.1 948.4,208.6 949.0,204.5 949.6,199.9 950.2,202.5 950.8,203.3 951.4,203.9 952.0,204.6 952.6,206.5 953.2,206.9 953.8,208.1 954.4,208.0 955.0,209.3 955.6,207.6 956.2,208.7 956.8,207.1 957.4,207.4 958.0,208.3 958.6,205.6 959.2,207.2 959.8,209.4 960.4,208.0 961.0,209.0 961.6,207.8 962.2,209.3 962.8,207.9 963.4,209.0 964.0,207.0 964.6,208.9 965.2,207.1 965.8,205.3 966.4,206.0 967.0,207.2 967.6,208.2 968.2,208.3 968.8,207.4 969.4,207.6 970.0,205.2 970.6,205.9 971.2,205.2 971.8,203.5 972.4,202.3 973.0,204.7 973.6,205.6 974.2,204.2 974.8,209.5 975.4,211.0 976.0,210.2 976.6,210.5 977.2,214.0 977.8,213.1 978.4,214.8 979.0,215.7 979.6,212.1 980.2,213.8 980.8,211.3 981.4,212.6 982.0,212.9 982.6,214.4 983.2,213.7 983.8,213.5 984.4,212.7 985.0,210.4 985.6,211.2 986.2,209.2 986.8,208.6 987.4,209.2 988.0,207.4 988.6,207.4 989.2,207.1 989.8,208.9 990.4,207.4 991.0,207.6 991.6,206.4 992.2,203.2 992.8,203.7 993.4,200.6 994.0,198.4 994.6,198.8 995.2,197.5 995.8,199.4 996.4,199.2 997.0,198.4 997.6,197.2 998.2,195.1 998.8,191.6 999.4,196.8 1000.0,195.6 1000.6,195.8 1001.2,197.0 1001.8,198.9 1002.4,198.9 1003.0,198.9 1003.6,201.1 1004.2,202.2 1004.8,202.6 1005.4,203.3 1006.0,204.5 1006.6,203.7 1007.2,201.7 1007.8,204.3 1008.4,205.3 1009.0,203.2 1009.6,203.3 1010.2,200.3 1010.8,198.3 1011.4,195.1 1012.0,193.2 1012.6,192.6 1013.2,189.0 1013.8,186.4 1014.4,183.0 1015.0,180.1 1015.6,179.3 1016.2,179.5 1016.8,180.0 1017.4,180.2 1018.0,180.3 1018.6,180.1 1019.2,180.9 1019.8,180.8 1020.4,184.3 1021.0,184.1 1021.6,185.0 1022.2,187.4 1022.8,185.0 1023.4,184.3 1024.0,181.7 1024.6,182.0 1025.2,178.6 1025.8,179.9 1026.4,178.0 1027.0,179.3 1027.6,178.7 1028.2,178.6 1028.8,180.0 1029.4,181.2 1030.0,182.2 1030.6,180.5 1031.2,179.6 1031.8,180.6 1032.4,180.1 1033.0,179.9 1033.6,176.7 1034.2,173.9 1034.8,174.4 1035.4,173.6 1036.0,173.5 1036.6,176.5 1037.2,176.7 1037.8,179.3 1038.4,181.0 1039.0,182.3 1039.6,185.1 1040.2,185.2 1040.8,188.2 1041.4,184.3 1042.0,185.0 1042.6,181.3 1043.2,182.7 1043.8,184.8 1044.4,183.2 1045.0,181.8 1045.6,183.0 1046.2,184.1 1046.8,188.4 1047.4,190.5 1048.0,193.3 1048.6,194.1 1049.2,195.4 1049.8,194.4 1050.4,191.3 1051.0,191.5 1051.6,191.8 1052.2,193.0 1052.8,193.6 1053.4,192.7 1054.0,190.8 1054.6,191.2 1055.2,190.8 1055.8,191.7 1056.4,190.9 1057.0,194.3 1057.6,194.9 1058.2,196.1 1058.8,195.4 1059.4,198.1 1060.0,200.7 1060.6,200.1 1061.2,198.5 1061.8,200.7 1062.4,201.7 1063.0,201.5 1063.6,196.7 1064.2,197.0 1064.8,194.6 1065.4,192.4 1066.0,192.4 1066.6,192.5 1067.2,191.0 1067.8,190.6 1068.4,188.0 1069.0,189.7 1069.6,189.7 1070.2,189.8 1070.8,186.2 1071.4,188.4 1072.0,186.8 1072.6,186.9 1073.2,188.0 1073.8,187.2 1074.4,187.3 1075.0,187.0 1075.6,189.7 1076.2,191.5 1076.8,193.0 1077.4,194.9 1078.0,194.3 1078.6,195.7 1079.2,194.0 1079.8,194.0 1080.4,195.0 1081.0,191.9 1081.6,191.6 1082.2,191.3 1082.8,189.2 1083.4,186.9 1084.0,183.9 1084.6,182.2 1085.2,183.9 1085.8,186.8 1086.4,190.6 1087.0,193.0 1087.6,193.9 1088.2,194.4 1088.8,198.4 1089.4,201.8 1090.0,199.8 1090.6,201.6 1091.2,202.0 1091.8,201.9 1092.4,198.0 1093.0,199.8 1093.6,200.7 1094.2,200.3 1094.8,199.0 1095.4,196.3 1096.0,196.6 1096.6,196.9 1097.2,196.5 1097.8,195.3 1098.4,195.9 1099.0,194.2 1099.6,194.8 1100.2,194.1 1100.8,191.7 1101.4,191.3 1102.0,189.3 1102.6,190.2 1103.2,189.2 1103.8,188.9 1104.4,190.1 1105.0,190.3 1105.6,193.4 1106.2,192.8 1106.8,193.1 1107.4,194.7 1108.0,192.2 1108.6,191.4 1109.2,194.1 1109.8,193.2 1110.4,194.9 1111.0,195.6 1111.6,195.8 1112.2,198.7 1112.8,198.8 1113.4,200.0 1114.0,201.3 1114.6,198.6 1115.2,200.0 1115.8,201.1 1116.4,202.8 1117.0,202.2 1117.6,202.5 1118.2,202.8 1118.8,205.4 1119.4,208.5 1120.0,207.7 1120.6,207.4 1121.2,207.3 1121.8,206.2 1122.4,205.5 1123.0,204.9 1123.6,205.6 1124.2,202.7 1124.8,200.9 1125.4,199.4 1126.0,197.3 1126.6,194.8 1127.2,196.7 1127.8,195.6 1128.4,194.0 1129.0,194.6 1129.6,195.8 1130.2,197.6 1130.8,199.6 1131.4,200.4 1132.0,198.2 1132.6,197.4 1133.2,197.9 1133.8,196.4 1134.4,197.0 1135.0,196.7 1135.6,197.9 1136.2,198.1 1136.8,198.2 1137.4,200.2 1138.0,199.7 1138.6,199.4 1139.2,197.9 1139.8,201.8 1140.4,199.0 1141.0,200.6 1141.6,197.8" fill="none" stroke="#7570b3" stroke-width="3.5" stroke-linecap="round" stroke-dasharray="1.4 4.6"/>
<polyline points="486.4,257.3 487.4,255.5 488.4,253.6 489.4,252.0 490.4,250.9 491.4,249.7 492.4,248.7 493.4,247.7 494.4,246.9 495.4,246.7 496.4,246.5 497.4,246.2 498.4,246.0 499.4,245.7 500.4,245.3 501.4,245.0 502.4,244.6 503.4,244.2 504.4,243.8 505.4,243.6 506.4,243.4 507.4,243.2 508.4,242.9 509.4,242.7 510.4,242.5 511.4,242.3 512.4,242.1 513.4,241.9 514.4,241.5 515.4,241.1 516.4,240.8 517.4,240.4 518.4,240.0 519.4,239.2 520.4,238.4 521.4,237.6 522.4,236.7 523.4,235.7 524.4,234.8 525.4,233.8 526.4,232.9 527.4,232.5 528.4,232.1 529.4,231.7 530.4,231.4 531.4,231.0 532.4,230.8 533.4,230.6 534.4,230.4 535.4,230.2 536.4,230.1 537.4,229.9 538.4,229.7 539.4,229.5 540.4,229.3 541.4,229.1 542.4,229.0 543.4,228.9 544.4,228.9 545.4,228.8 546.4,228.7 547.4,228.6 548.4,228.5 549.4,228.4 550.4,228.3 551.4,228.3 552.4,228.2 553.4,228.1 554.4,228.0 555.4,227.9 556.4,227.8 557.4,227.8 558.4,227.7 559.4,227.6 560.4,227.5 561.4,227.4 562.4,227.4 563.4,227.3 564.4,227.2 565.4,227.1 566.4,227.1 567.4,227.0 568.4,226.9 569.4,226.8 570.4,226.7 571.4,226.7 572.4,226.6 573.4,226.5 574.4,226.4 575.4,226.4 576.4,226.3 577.4,226.2 578.4,226.1 579.4,226.0 580.4,226.0 581.4,225.9 582.4,225.8 583.4,225.8 584.4,225.7 585.4,225.6 586.4,225.5 587.4,225.5 588.4,225.4 589.4,225.3 590.4,225.3 591.4,225.2 592.4,225.1 593.4,225.0 594.4,225.0 595.4,224.9 596.4,224.8 597.4,224.8 598.4,224.7 599.4,224.6 600.4,224.5 601.4,224.5 602.4,224.4 603.4,224.3 604.4,224.2 605.4,224.0 606.4,223.9 607.4,223.8 608.4,223.7 609.4,223.6 610.4,223.5 611.4,223.4 612.4,223.2 613.4,223.1 614.4,223.0 615.4,222.9 616.4,222.7 617.4,222.6 618.4,222.5 619.4,222.3 620.4,222.2 621.4,222.1 622.4,221.9 623.4,221.8 624.4,221.7 625.4,221.5 626.4,221.4 627.4,221.3 628.4,221.2 629.4,221.0 630.4,220.9 631.4,220.8 632.4,220.7 633.4,220.6 634.4,220.4 635.4,220.3 636.4,220.2 637.4,220.1 638.4,220.0 639.4,219.8 640.4,219.7 641.4,219.6 642.4,219.5 643.4,219.3 644.4,219.0 645.4,218.6 646.4,218.3 647.4,217.9 648.4,217.6 649.4,217.2 650.4,216.6 651.4,216.1 652.4,215.5 653.4,214.9 654.4,214.4 655.4,213.8 656.4,213.3 657.4,212.7 658.4,212.2 659.4,211.6 660.4,211.3 661.4,211.0 662.4,210.7 663.4,210.4 664.4,210.1 665.4,209.8 666.4,209.4 667.4,209.0 668.4,208.6 669.4,208.3 670.4,207.9 671.4,207.5 672.4,207.1 673.4,206.8 674.4,206.4 675.4,206.2 676.4,206.1 677.4,206.0 678.4,205.9 679.4,205.8 680.4,205.7 681.4,205.6 682.4,205.5 683.4,205.4 684.4,205.3 685.4,205.2 686.4,205.1 687.4,205.0 688.4,204.9 689.4,204.8 690.4,204.7 691.4,204.6 692.4,204.5 693.4,204.4 694.4,204.3 695.4,204.2 696.4,204.1 697.4,204.0 698.4,204.0 699.4,203.9 700.4,203.8 701.4,203.7 702.4,203.6 703.4,203.5 704.4,203.4 705.4,203.3 706.4,203.2 707.4,203.1 708.4,203.0 709.4,202.9 710.4,202.8 711.4,202.7 712.4,202.6 713.4,202.4 714.4,202.3 715.4,202.2 716.4,202.1 717.4,202.0 718.4,201.9 719.4,201.8 720.4,201.7 721.4,201.6 722.4,201.6 723.4,201.5 724.4,201.5 725.4,201.4 726.4,201.4 727.4,201.4 728.4,201.3 729.4,201.3 730.4,201.2 731.4,201.2 732.4,201.1 733.4,201.1 734.4,201.0 735.4,201.0 736.4,200.9 737.4,200.9 738.4,200.8 739.4,200.8 740.4,200.7 741.4,200.7 742.4,200.7 743.4,200.6 744.4,200.6 745.4,200.5 746.4,200.5 747.4,200.4 748.4,200.4 749.4,200.3 750.4,200.3 751.4,200.3 752.4,200.2 753.4,200.2 754.4,200.2 755.4,200.2 756.4,200.1 757.4,200.1 758.4,200.1 759.4,200.0 760.4,200.0 761.4,200.0 762.4,200.0 763.4,199.9 764.4,199.9 765.4,199.9 766.4,199.9 767.4,199.8 768.4,199.8 769.4,199.8 770.4,199.8 771.4,199.7 772.4,199.7 773.4,199.7 774.4,199.6 775.4,199.6 776.4,199.6 777.4,199.6 778.4,199.5 779.4,199.5 780.4,199.5 781.4,199.5 782.4,199.5 783.4,199.5 784.4,199.4 785.4,199.4 786.4,199.4 787.4,199.4 788.4,199.4 789.4,199.4 790.4,199.4 791.4,199.3 792.4,199.3 793.4,199.3 794.4,199.3 795.4,199.3 796.4,199.3 797.4,199.3 798.4,199.3 799.4,199.2 800.4,199.2 801.4,199.2 802.4,199.2 803.4,199.2 804.4,199.2 805.4,199.2 806.4,199.2 807.4,199.1 808.4,199.1 809.4,199.1 810.4,199.1 811.4,199.1 812.4,199.1 813.4,199.1 814.4,199.0 815.4,199.0 816.4,199.0 817.4,199.0 818.4,199.0 819.4,199.0 820.4,199.0 821.4,199.0 822.4,199.0 823.4,199.0 824.4,199.0 825.4,199.0 826.4,199.0 827.4,199.0 828.4,198.9 829.4,198.9 830.4,198.9 831.4,198.9 832.4,198.9 833.4,198.9 834.4,198.9 835.4,198.9 836.4,198.9 837.4,198.9 838.4,198.9 839.4,198.9 840.4,198.9 841.4,198.9 842.4,198.9 843.4,198.9 844.4,198.9 845.4,198.9 846.4,198.9 847.4,198.9 848.4,198.9 849.4,198.8 850.4,198.8 851.4,198.8 852.4,198.8 853.4,198.8 854.4,198.8 855.4,198.8 856.4,198.8 857.4,198.8 858.4,198.8 859.4,198.8 860.4,198.8 861.4,198.8 862.4,198.8 863.4,198.8 864.4,198.8 865.4,198.8 866.4,198.8 867.4,198.8 868.4,198.8 869.4,198.7 870.4,198.7 871.4,198.7 872.4,198.7 873.4,198.7 874.4,198.7 875.4,198.7 876.4,198.7 877.4,198.7 878.4,198.7 879.4,198.7 880.4,198.7 881.4,198.7 882.4,198.7 883.4,198.7 884.4,198.7 885.4,198.7 886.4,198.7 887.4,198.7 888.4,198.7 889.4,198.7 890.4,198.6 891.4,198.6 892.4,198.6 893.4,198.6 894.4,198.6 895.4,198.6 896.4,198.6 897.4,198.6 898.4,198.6 899.4,198.6 900.4,198.6 901.4,198.6 902.4,198.6 903.4,198.6 904.4,198.6 905.4,198.6 906.4,198.6 907.4,198.6 908.4,198.6 909.4,198.6 910.4,198.6 911.4,198.6 912.4,198.6 913.4,198.6 914.4,198.6 915.4,198.6 916.4,198.6 917.4,198.6 918.4,198.6 919.4,198.6 920.4,198.6 921.4,198.6 922.4,198.6 923.4,198.6 924.4,198.6 925.4,198.6 926.4,198.6 927.4,198.6 928.4,198.6 929.4,198.6 930.4,198.5 931.4,198.5 932.4,198.5 933.4,198.5 934.4,198.5 935.4,198.5 936.4,198.5 937.4,198.5 938.4,198.5 939.4,198.5 940.4,198.5 941.4,198.5 942.4,198.5 943.4,198.5 944.4,198.5 945.4,198.5 946.4,198.5 947.4,198.5 948.4,198.5 949.4,198.5 950.4,198.5 951.4,198.5 952.4,198.5 953.4,198.5 954.4,198.5 955.4,198.5 956.4,198.5 957.4,198.5 958.4,198.5 959.4,198.5 960.4,198.5 961.4,198.5 962.4,198.5 963.4,198.5 964.4,198.5 965.4,198.5 966.4,198.5 967.4,198.5 968.4,198.5 969.4,198.5 970.4,198.5 971.4,198.5 972.4,198.5 973.4,198.5 974.4,198.5 975.4,198.5 976.4,198.5 977.4,198.5 978.4,198.5 979.4,198.5 980.4,198.5 981.4,198.5 982.4,198.5 983.4,198.5 984.4,198.5 985.4,198.5 986.4,198.5 987.4,198.5 988.4,198.5 989.4,198.5 990.4,198.5 991.4,198.4 992.4,198.4 993.4,198.4 994.4,198.4 995.4,198.4 996.4,198.4 997.4,198.4 998.4,198.4 999.4,198.4 1000.4,198.4 1001.4,198.4 1002.4,198.4 1003.4,198.4 1004.4,198.4 1005.4,198.4 1006.4,198.4 1007.4,198.4 1008.4,198.4 1009.4,198.4 1010.4,198.4 1011.4,198.4 1012.4,198.4 1013.4,198.4 1014.4,198.4 1015.4,198.4 1016.4,198.4 1017.4,198.4 1018.4,198.4 1019.4,198.4 1020.4,198.4 1021.4,198.4 1022.4,198.4 1023.4,198.4 1024.4,198.4 1025.4,198.4 1026.4,198.4 1027.4,198.4 1028.4,198.4 1029.4,198.4 1030.4,198.4 1031.4,198.4 1032.4,198.4 1033.4,198.4 1034.4,198.4 1035.4,198.4 1036.4,198.4 1037.4,198.4 1038.4,198.4 1039.4,198.4 1040.4,198.4 1041.4,198.4 1042.4,198.4 1043.4,198.4 1044.4,198.4 1045.4,198.4 1046.4,198.4 1047.4,198.4 1048.4,198.4 1049.4,198.4 1050.4,198.4 1051.4,198.3 1052.4,198.3 1053.4,198.3 1054.4,198.3 1055.4,198.3 1056.4,198.3 1057.4,198.3 1058.4,198.3 1059.4,198.3 1060.4,198.3 1061.4,198.3 1062.4,198.3 1063.4,198.3 1064.4,198.3 1065.4,198.3 1066.4,198.3 1067.4,198.3 1068.4,198.3 1069.4,198.3 1070.4,198.3 1071.4,198.3 1072.4,198.3 1073.4,198.3 1074.4,198.3 1075.4,198.3 1076.4,198.3 1077.4,198.3 1078.4,198.3 1079.4,198.3 1080.4,198.3 1081.4,198.3 1082.4,198.3 1083.4,198.3 1084.4,198.3 1085.4,198.3 1086.4,198.3 1087.4,198.3 1088.4,198.3 1089.4,198.3 1090.4,198.3 1091.4,198.3 1092.4,198.3 1093.4,198.3 1094.4,198.3 1095.4,198.3 1096.4,198.3 1097.4,198.3 1098.4,198.3 1099.4,198.3 1100.4,198.3 1101.4,198.3 1102.4,198.3 1103.4,198.3 1104.4,198.3 1105.4,198.3 1106.4,198.3 1107.4,198.3 1108.4,198.3 1109.4,198.3 1110.4,198.3 1111.4,198.3 1112.4,198.2 1113.4,198.2 1114.4,198.2 1115.4,198.2 1116.4,198.2 1117.4,198.2 1118.4,198.2 1119.4,198.2 1120.4,198.2 1121.4,198.2 1122.4,198.2 1123.4,198.2 1124.4,198.2 1125.4,198.2 1126.4,198.2 1127.4,198.2 1128.4,198.2 1129.4,198.2 1130.4,198.2 1131.4,198.2 1132.4,198.2 1133.4,198.2 1134.4,198.2 1135.4,198.2 1136.4,198.2 1137.4,198.2 1138.4,198.2 1139.4,198.2 1140.4,198.2 1141.4,198.2" fill="none" stroke="#d95f02" stroke-width="3" stroke-dasharray="11.1 4.8"/>
<polyline points="487.0,265.2 487.2,262.9 487.5,263.5 487.8,261.1 488.0,262.6 488.2,259.4 488.5,259.3 488.8,256.8 489.0,257.7 489.2,254.3 489.5,252.1 489.8,250.8 490.0,247.9 490.2,247.2 490.5,244.9 490.8,245.6 491.0,244.5 491.2,242.7 491.5,240.8 491.8,241.1 492.0,239.7 492.2,238.0 492.5,239.1 492.8,235.7 493.0,235.6 493.2,234.3 493.5,237.9 493.8,236.7 494.0,236.1 494.2,236.6 494.5,235.1 494.8,235.7 495.0,236.0 495.2,236.1 495.5,235.6 495.8,238.2 496.0,238.8 496.2,239.5 496.5,239.7 496.8,238.3 497.0,240.4 497.2,242.2 497.5,240.9 497.8,242.1 498.0,241.5 498.2,239.7 498.5,241.8 498.8,242.3 499.0,238.0 499.2,238.7 499.5,238.4 499.8,239.1 500.0,238.5 500.2,236.9 500.5,239.0 500.8,237.8 501.0,236.6 501.2,237.4 501.5,235.8 501.8,235.7 502.0,235.5 502.2,236.6 502.5,236.6 502.8,236.5 503.0,236.6 503.2,233.7 503.5,232.5 503.8,229.5 504.0,233.7 504.2,229.3 504.5,229.2 504.8,229.1 505.0,227.1 505.2,226.5 505.5,223.5 505.8,223.0 506.0,219.7 506.2,221.1 506.5,219.6 506.8,219.8 507.0,218.1 507.2,215.9 507.5,215.8 507.8,214.6 508.0,213.8 508.2,213.3 508.5,211.5 508.8,212.1 509.0,211.3 509.2,212.3 509.5,211.8 509.8,213.1 510.0,213.0 510.2,215.7 510.5,215.4 510.8,219.4 511.0,220.9 511.2,223.6 511.5,223.2 511.8,226.4 512.0,226.4 512.2,232.2 512.5,233.4 512.8,232.9 513.0,232.8 513.2,233.0 513.5,232.5 513.8,231.6 514.0,233.4 514.2,234.0 514.5,235.7 514.8,237.6 515.0,234.8 515.2,240.3 515.5,237.9 515.8,237.1 516.0,235.1 516.2,235.2 516.5,233.9 516.8,230.6 517.0,228.8 517.2,226.3 517.5,223.5 517.8,222.6 518.0,224.0 518.2,224.0 518.5,222.5 518.8,224.4 519.0,221.0 519.2,223.8 519.5,222.5 519.8,220.4 520.0,219.4 520.2,218.7 520.5,217.8 520.8,215.1 521.0,215.5 521.2,215.6 521.5,215.4 521.8,215.4 522.0,215.9 522.2,214.3 522.5,214.3 522.8,215.1 523.0,213.8 523.2,213.7 523.5,215.1 523.8,214.1 524.0,214.8 524.2,217.9 524.5,215.0 524.8,218.0 525.0,216.0 525.2,218.0 525.5,217.7 525.8,219.3 526.0,220.0 526.2,218.3 526.5,220.3 526.8,221.2 527.0,221.3 527.2,221.9 527.5,224.3 527.8,226.4 528.0,225.3 528.2,223.2 528.5,224.4 528.8,224.7 529.0,226.4 529.2,223.7 529.5,225.6 529.8,224.5 530.0,226.1 530.2,223.6 530.5,225.5 530.8,225.1 531.0,223.3 531.2,224.7 531.5,222.6 531.8,222.4 532.0,220.3 532.2,221.0 532.5,218.2 532.8,218.9 533.0,220.3 533.2,217.1 533.5,216.8 533.8,214.7 534.0,212.3 534.2,213.1 534.5,212.5 534.8,208.9 535.0,207.2 535.2,206.7 535.5,209.1 535.8,210.1 536.0,208.3 536.2,209.7 536.5,209.7 536.8,213.7 537.0,210.8 537.2,209.1 537.5,210.3 537.8,210.2 538.0,209.5 538.2,209.5 538.5,212.1 538.8,213.3 539.0,213.2 539.2,214.5 539.5,217.1 539.8,217.5 540.0,214.2 540.2,215.8 540.5,216.8 540.8,216.4 541.0,219.1 541.2,218.1 541.5,217.8 541.8,216.0 542.0,217.9 542.2,216.3 542.5,217.3 542.8,216.4 543.0,217.6 543.2,214.3 543.5,215.0 543.8,218.7 544.0,216.2 544.2,217.7 544.5,216.4 544.8,219.8 545.0,217.8 545.2,221.4 545.5,219.6 545.8,221.2 546.0,222.7 546.2,224.6 546.5,223.6 546.8,225.8 547.0,225.9 547.2,227.6 547.5,230.0 547.8,229.4 548.0,229.2 548.2,229.9 548.5,230.4 548.8,228.1 549.0,229.4 549.2,229.0 549.5,226.1 549.8,227.6 550.0,224.1 550.2,225.5 550.5,226.2 550.8,225.3 551.0,223.6 551.2,224.0 551.5,221.6 551.8,220.9 552.0,220.1 552.2,219.6 552.5,217.5 552.8,217.8 553.0,218.4 553.2,215.0 553.5,214.0 553.8,213.5 554.0,214.9 554.2,215.9 554.5,215.4 554.8,215.8 555.0,214.5 555.2,212.5 555.5,212.8 555.8,212.8 556.0,214.6 556.2,214.5 556.5,217.8 556.8,215.2 557.0,215.8 557.2,216.0 557.5,216.1 557.8,216.4 558.0,218.7 558.2,220.5 558.5,217.8 558.8,222.5 559.0,218.9 559.2,221.5 559.5,221.2 559.8,222.8 560.0,221.4 560.2,220.1 560.5,222.1 560.8,222.2 561.0,223.5 561.2,221.4 561.5,223.4 561.8,223.0 562.0,225.7 562.2,224.0 562.5,224.7 562.8,223.4 563.0,224.5 563.2,223.2 563.5,222.7 563.8,221.6 564.0,222.3 564.2,222.9 564.5,222.7 564.8,225.8 565.0,223.4 565.2,222.6 565.5,223.3 565.8,225.0 566.0,228.2 566.2,226.9 566.5,228.0 566.8,228.8 567.0,229.6 567.2,229.2 567.5,228.0 567.8,227.1 568.0,226.5 568.2,227.0 568.5,226.3 568.8,228.9 569.0,228.3 569.2,229.9 569.5,229.7 569.8,228.6 570.0,231.7 570.2,229.2 570.5,229.6 570.8,227.7 571.0,227.5 571.2,228.5 571.5,226.9 571.8,225.6 572.0,226.0 572.2,226.7 572.5,225.7 572.8,225.0 573.0,227.7 573.2,225.9 573.5,225.8 573.8,227.3 574.0,228.4 574.2,226.2 574.5,224.5 574.8,223.2 575.0,224.6 575.2,224.4 575.5,222.0 575.8,224.6 576.0,219.1 576.2,220.7 576.5,222.4 576.8,221.7 577.0,219.2 577.2,221.9 577.5,222.3 577.8,222.6 578.0,222.6 578.2,223.4 578.5,222.5 578.8,226.0 579.0,227.9 579.2,227.2 579.5,228.7 579.8,231.7 580.0,232.4 580.2,234.2 580.5,234.1 580.8,234.7 581.0,235.1 581.2,233.0 581.5,234.1 581.8,234.5 582.0,234.7 582.2,237.0 582.5,235.5 582.8,237.7 583.0,235.5 583.2,237.9 583.5,237.1 583.8,240.6 584.0,239.2 584.2,241.4 584.5,241.7 584.8,240.6 585.0,238.3 585.2,240.2 585.5,237.0 585.8,236.0 586.0,235.1 586.2,233.6 586.5,235.7 586.8,233.1 587.0,234.0 587.2,232.7 587.5,232.4 587.8,229.3 588.0,231.7 588.2,230.0 588.5,227.8 588.8,226.6 589.0,223.7 589.2,222.8 589.5,223.4 589.8,219.2 590.0,217.6 590.2,217.3 590.5,211.6 590.8,213.3 591.0,212.9 591.2,212.2 591.5,209.5 591.8,206.3 592.0,209.2 592.2,210.1 592.5,207.3 592.8,206.8 593.0,208.1 593.2,208.4 593.5,207.4 593.8,211.0 594.0,212.5 594.2,209.8 594.5,209.2 594.8,209.7 595.0,210.9 595.2,207.8 595.5,212.6 595.8,211.9 596.0,212.0 596.2,213.9 596.5,216.4 596.8,214.9 597.0,215.5 597.2,218.0 597.5,217.0 597.8,215.8 598.0,217.7 598.2,216.9 598.5,218.9 598.8,217.1 599.0,216.7 599.2,217.1 599.5,218.4 599.8,219.4 600.0,220.5 600.2,220.4 600.5,220.0 600.8,219.4 601.0,221.9 601.2,222.0 601.5,219.8 601.8,221.4 602.0,221.9 602.2,222.1 602.5,221.9 602.8,221.3 603.0,220.9 603.2,220.1 603.5,219.9 603.8,219.5 604.0,221.1 604.2,219.5 604.5,218.4 604.8,218.6 605.0,216.9 605.2,214.5 605.5,214.7 605.8,214.9 606.0,216.3 606.2,215.2 606.5,215.1 606.8,217.0 607.0,212.6 607.2,215.1 607.5,212.8 607.8,212.4 608.0,210.9 608.2,209.8 608.5,209.2 608.8,209.5 609.0,205.9 609.2,205.5 609.5,210.0 609.8,209.7 610.0,207.9 610.2,206.5 610.5,207.7 610.8,207.1 611.0,209.8 611.2,209.1 611.5,209.1 611.8,210.7 612.0,208.8 612.2,209.7 612.5,212.1 612.8,213.1 613.0,214.4 613.2,213.8 613.5,213.4 613.8,215.0 614.0,216.8 614.2,217.3 614.5,215.5 614.8,218.7 615.0,219.7 615.2,220.6 615.5,218.5 615.8,221.8 616.0,222.6 616.2,220.5 616.5,221.8 616.8,223.4 617.0,222.0 617.2,219.3 617.5,223.2 617.8,224.9 618.0,225.4 618.2,228.7 618.5,226.6 618.8,227.7 619.0,227.2 619.2,226.8 619.5,228.2 619.8,228.4 620.0,226.8 620.2,225.6 620.5,225.7 620.8,228.1 621.0,230.8 621.2,229.5 621.5,230.4 621.8,231.4 622.0,230.9 622.2,229.9 622.5,233.4 622.8,236.0 623.0,234.7 623.2,232.7 623.5,234.5 623.8,234.7 624.0,236.1 624.2,236.3 624.5,235.2 624.8,235.9 625.0,234.9 625.2,235.3 625.5,235.2 625.8,237.3 626.0,234.4 626.2,235.8 626.5,232.9 626.8,234.8 627.0,236.3 627.2,236.5 627.5,236.5 627.8,236.2 628.0,232.1 628.2,233.2 628.5,232.9 628.8,227.9 629.0,231.8 629.2,231.2 629.5,232.7 629.8,228.8 630.0,229.6 630.2,226.5 630.5,229.0 630.8,228.5 631.0,226.8 631.2,227.4 631.5,226.1 631.8,224.0 632.0,222.1 632.2,219.8 632.5,219.3 632.8,217.5 633.0,219.6 633.2,216.7 633.5,217.4 633.8,216.2 634.0,215.9 634.2,213.1 634.5,213.7 634.8,212.9 635.0,214.2 635.2,215.0 635.5,213.9 635.8,212.3 636.0,211.3 636.2,211.2 636.5,211.4 636.8,211.6 637.0,210.8 637.2,209.0 637.5,207.1 637.8,210.5 638.0,210.3 638.2,207.9 638.5,208.4 638.8,207.6 639.0,209.4 639.2,205.8 639.5,206.2 639.8,203.9 640.0,204.0 640.2,203.6 640.5,205.1 640.8,204.0 641.0,202.8 641.2,201.7 641.5,202.4 641.8,201.1 642.0,199.9 642.2,199.8 642.5,199.3 642.8,202.0 643.0,203.3 643.2,203.8 643.5,204.2 643.8,205.3 644.0,204.8 644.2,205.7 644.5,206.9 644.8,207.3 645.0,205.6 645.2,208.7 645.5,207.3 645.8,206.1 646.0,205.1 646.2,204.6 646.5,206.4 646.8,205.7 647.0,209.3 647.2,212.2 647.5,212.4 647.8,213.7 648.0,216.9 648.2,216.2 648.5,217.2 648.8,219.9 649.0,220.2 649.2,223.1 649.5,225.3 649.8,226.0 650.0,227.1 650.2,228.7 650.5,233.5 650.8,231.3 651.0,234.7 651.2,235.9 651.5,236.2 651.8,240.2 652.0,240.8 652.2,242.1 652.5,239.5 652.8,240.9 653.0,238.3 653.2,237.4 653.5,236.9 653.8,236.9 654.0,237.4 654.2,234.5 654.5,235.9 654.8,234.3 655.0,233.3 655.2,233.6 655.5,235.4 655.8,232.0 656.0,233.5 656.2,235.1 656.5,234.1 656.8,233.2 657.0,231.3 657.2,233.3 657.5,233.4 657.8,228.6 658.0,226.6 658.2,228.9 658.5,226.1 658.8,227.2 659.0,225.8 659.2,227.6 659.5,227.5 659.8,229.2 660.0,229.7 660.2,230.2 660.5,232.4 660.8,230.8 661.0,231.8 661.2,234.1 661.5,235.1 661.8,235.5 662.0,234.8 662.2,235.5 662.5,237.4 662.8,239.0 663.0,236.9 663.2,238.0 663.5,236.4 663.8,237.9 664.0,238.4 664.2,240.7 664.5,239.5 664.8,243.2 665.0,243.3 665.2,243.7 665.5,243.3 665.8,241.1 666.0,242.2 666.2,241.7 666.5,242.3 666.8,243.6 667.0,243.2 667.2,243.1 667.5,243.9 667.8,243.8 668.0,244.5 668.2,245.4 668.5,245.0 668.8,245.7 669.0,245.3 669.2,246.3 669.5,245.3 669.8,248.0 670.0,245.8 670.2,247.7 670.5,247.4 670.8,245.6 671.0,246.7 671.2,248.5 671.5,246.7 671.8,245.9 672.0,245.2 672.2,242.1 672.5,242.6 672.8,243.1 673.0,241.0 673.2,238.9 673.5,239.0 673.8,238.1 674.0,237.4 674.2,238.1 674.5,236.3 674.8,234.0 675.0,233.3 675.2,231.7 675.5,233.2 675.8,229.5 676.0,226.6 676.2,228.3 676.5,226.7 676.8,224.6 677.0,226.1 677.2,225.4 677.5,223.0 677.8,225.7 678.0,227.4 678.2,228.6 678.5,228.3 678.8,227.9 679.0,231.7 679.2,231.6 679.5,229.7 679.8,230.8 680.0,229.7 680.2,229.6 680.5,232.6 680.8,230.8 681.0,231.6 681.2,230.2 681.5,232.8 681.8,232.2 682.0,233.1 682.2,236.2 682.5,233.7 682.8,236.1 683.0,234.3 683.2,234.2 683.5,236.4 683.8,237.4 684.0,235.3 684.2,236.8 684.5,237.4 684.8,236.2 685.0,240.5 685.2,241.9 685.5,243.3 685.8,243.9 686.0,242.0 686.2,239.4 686.5,240.6 686.8,240.0 687.0,238.0 687.2,237.6 687.5,235.5 687.8,232.9 688.0,235.4 688.2,237.4 688.5,238.0 688.8,236.3 689.0,234.2 689.2,231.4 689.5,232.9 689.8,233.3 690.0,232.5 690.2,233.6 690.5,233.2 690.8,233.0 691.0,233.7 691.2,232.1 691.5,228.7 691.8,231.2 692.0,231.0 692.2,230.4 692.5,229.9 692.8,231.4 693.0,232.2 693.2,234.1 693.5,231.7 693.8,230.3 694.0,228.4 694.2,230.8 694.5,228.6 694.8,229.9 695.0,229.9 695.2,226.0 695.5,227.3 695.8,227.3 696.0,227.4 696.2,225.9 696.5,225.7 696.8,224.4 697.0,224.8 697.2,226.6 697.5,229.3 697.8,229.1 698.0,229.1 698.2,231.0 698.5,229.0 698.8,227.5 699.0,230.4 699.2,229.0 699.5,228.8 699.8,228.6 700.0,229.7 700.2,227.9 700.5,229.4 700.8,227.3 701.0,226.3 701.2,227.6 701.5,227.4 701.8,227.8 702.0,225.3 702.2,225.3 702.5,228.4 702.8,229.5 703.0,227.9 703.2,228.2 703.5,227.0 703.8,228.3 704.0,226.3 704.2,226.7 704.5,227.4 704.8,227.0 705.0,224.7 705.2,222.8 705.5,222.4 705.8,222.8 706.0,223.3 706.2,221.3 706.5,219.8 706.8,216.6 707.0,217.8 707.2,216.6 707.5,215.0 707.8,215.8 708.0,212.9 708.2,210.7 708.5,210.1 708.8,206.6 709.0,205.3 709.2,202.7 709.5,200.4 709.8,196.3 710.0,195.3 710.2,194.6 710.5,194.7 710.8,194.4 711.0,193.7 711.2,192.4 711.5,196.3 711.8,196.1 712.0,195.9 712.2,195.1 712.5,195.1 712.8,194.0 713.0,193.6 713.2,197.0 713.5,195.3 713.8,193.7 714.0,195.2 714.2,194.2 714.5,195.2 714.8,193.6 715.0,197.6 715.2,196.4 715.5,197.1 715.8,197.6 716.0,197.5 716.2,197.5 716.5,195.3 716.8,194.7 717.0,194.9 717.2,194.2 717.5,192.6 717.8,192.7 718.0,189.8 718.2,191.1 718.5,189.3 718.8,190.8 719.0,189.4 719.2,188.9 719.5,189.0 719.8,188.1 720.0,189.5 720.2,189.8 720.5,189.6 720.8,192.2 721.0,192.3 721.2,192.0 721.5,192.0 721.8,192.6 722.0,192.9 722.2,190.4 722.5,190.6 722.8,189.3 723.0,187.8 723.2,189.8 723.5,190.0 723.8,189.8 724.0,191.2 724.2,190.7 724.5,191.5 724.8,191.3 725.0,192.5 725.2,193.3 725.5,190.4 725.8,193.2 726.0,192.7 726.2,194.6 726.5,196.6 726.8,194.8 727.0,196.1 727.2,196.5 727.5,197.3 727.8,199.2 728.0,198.1 728.2,198.6 728.5,197.6 728.8,195.9 729.0,196.0 729.2,198.8 729.5,195.5 729.8,197.3 730.0,198.4 730.2,201.2 730.5,201.0 730.8,202.9 731.0,207.3 731.2,205.3 731.5,203.8 731.8,206.7 732.0,203.5 732.2,204.9 732.5,204.3 732.8,204.4 733.0,203.5 733.2,202.9 733.5,201.5 733.8,202.6 734.0,203.0 734.2,202.1 734.5,199.6 734.8,201.1 735.0,201.6 735.2,198.9 735.5,200.4 735.8,198.8 736.0,196.2 736.2,196.7 736.5,198.1 736.8,199.1 737.0,198.4 737.2,197.6 737.5,197.9 737.8,196.1 738.0,194.2 738.2,199.2 738.5,197.2 738.8,197.5 739.0,198.0 739.2,195.4 739.5,195.4 739.8,199.1 740.0,196.7 740.2,196.9 740.5,196.0 740.8,197.7 741.0,196.7 741.2,196.3 741.5,196.5 741.8,197.6 742.0,194.8 742.2,194.8 742.5,193.7 742.8,193.5 743.0,190.9 743.2,190.3 743.5,193.6 743.8,191.0 744.0,191.3 744.2,194.2 744.5,192.4 744.8,192.3 745.0,191.4 745.2,193.5 745.5,194.9 745.8,197.2 746.0,197.7 746.2,196.6 746.5,196.6 746.8,197.1 747.0,197.0 747.2,197.2 747.5,197.1 747.8,198.6 748.0,200.6 748.2,200.5 748.5,200.8 748.8,200.1 749.0,199.7 749.2,201.2 749.5,202.0 749.8,203.1 750.0,203.6 750.2,203.8 750.5,204.5 750.8,204.7 751.0,203.5 751.2,206.6 751.5,206.5 751.8,205.0 752.0,205.2 752.2,207.7 752.5,205.0 752.8,203.8 753.0,205.2 753.2,205.8 753.5,204.7 753.8,206.0 754.0,206.8 754.2,205.1 754.5,206.1 754.8,206.3 755.0,202.7 755.2,202.2 755.5,202.1 755.8,201.9 756.0,199.4 756.2,201.2 756.5,201.4 756.8,202.3 757.0,199.7 757.2,198.0 757.5,198.9 757.8,199.5 758.0,200.5 758.2,198.0 758.5,197.4 758.8,197.8 759.0,196.5 759.2,200.4 759.5,197.0 759.8,196.9 760.0,196.4 760.2,197.3 760.5,198.6 760.8,201.5 761.0,203.3 761.2,204.4 761.5,204.0 761.8,204.3 762.0,207.0 762.2,206.4 762.5,207.2 762.8,207.7 763.0,208.4 763.2,207.3 763.5,208.2 763.8,207.1 764.0,210.1 764.2,208.8 764.5,209.2 764.8,210.8 765.0,209.1 765.2,209.8 765.5,211.4 765.8,215.3 766.0,215.2 766.2,212.3 766.5,212.3 766.8,211.3 767.0,212.4 767.2,208.8 767.5,207.3 767.8,210.4 768.0,212.0 768.2,209.8 768.5,209.3 768.8,208.1 769.0,208.6 769.2,212.0 769.5,209.2 769.8,205.7 770.0,205.5 770.2,206.3 770.5,200.9 770.8,203.0 771.0,205.1 771.2,206.7 771.5,206.0 771.8,207.9 772.0,206.2 772.2,205.3 772.5,206.8 772.8,204.4 773.0,207.0 773.2,208.3 773.5,205.5 773.8,206.2 774.0,206.2 774.2,204.0 774.5,205.6 774.8,207.0 775.0,202.6 775.2,204.4 775.5,203.1 775.8,204.7 776.0,205.3 776.2,207.6 776.5,204.7 776.8,206.0 777.0,205.0 777.2,205.9 777.5,206.6 777.8,205.3 778.0,203.8 778.2,203.9 778.5,203.8 778.8,204.8 779.0,206.8 779.2,206.9 779.5,206.5 779.8,204.1 780.0,204.1 780.2,205.2 780.5,202.3 780.8,203.8 781.0,202.5 781.2,201.9 781.5,201.2 781.8,203.6 782.0,201.0 782.2,202.0 782.5,202.6 782.8,201.0 783.0,199.6 783.2,199.3 783.5,199.0 783.8,195.6 784.0,195.0 784.2,195.3 784.5,192.4 784.8,190.2 785.0,190.7 785.2,188.5 785.5,184.9 785.8,187.0 786.0,181.7 786.2,183.9 786.5,180.7 786.8,181.5 787.0,180.1 787.2,177.1 787.5,176.3 787.8,177.3 788.0,175.7 788.2,174.1 788.5,171.3 788.8,172.1 789.0,171.7 789.2,171.7 789.5,172.3 789.8,172.8 790.0,172.0 790.2,175.2 790.5,177.5 790.8,175.9 791.0,176.6 791.2,177.0 791.5,178.5 791.8,179.3 792.0,182.1 792.2,182.2 792.5,181.8 792.8,185.0 793.0,185.8 793.2,187.9 793.5,187.6 793.8,188.7 794.0,187.4 794.2,186.1 794.5,187.4 794.8,184.8 795.0,183.1 795.2,183.4 795.5,181.4 795.8,181.9 796.0,179.6 796.2,177.7 796.5,178.5 796.8,177.9 797.0,176.3 797.2,176.0 797.5,177.3 797.8,175.5 798.0,173.6 798.2,175.2 798.5,173.9 798.8,171.8 799.0,172.0 799.2,172.5 799.5,170.8 799.8,169.0 800.0,169.7 800.2,168.0 800.5,171.1 800.8,168.4 801.0,170.1 801.2,167.9 801.5,169.3 801.8,168.2 802.0,167.6 802.2,167.4 802.5,164.5 802.8,166.7 803.0,163.9 803.2,163.5 803.5,164.2 803.8,162.0 804.0,164.3 804.2,163.6 804.5,164.4 804.8,164.2 805.0,161.9 805.2,159.3 805.5,159.1 805.8,159.5 806.0,160.1 806.2,162.4 806.5,158.0 806.8,159.4 807.0,161.0 807.2,159.7 807.5,159.7 807.8,159.8 808.0,160.6 808.2,158.1 808.5,155.8 808.8,155.2 809.0,155.3 809.2,155.6 809.5,155.8 809.8,153.0 810.0,152.5 810.2,151.7 810.5,153.7 810.8,152.0 811.0,152.9 811.2,152.8 811.5,152.7 811.8,153.1 812.0,148.7 812.2,150.5 812.5,148.1 812.8,147.2 813.0,145.8 813.2,144.7 813.5,146.0 813.8,145.7 814.0,144.0 814.2,143.7 814.5,145.1 814.8,141.8 815.0,142.9 815.2,144.7 815.5,143.1 815.8,139.9 816.0,140.8 816.2,138.1 816.5,139.2 816.8,138.1 817.0,138.8 817.2,135.7 817.5,138.9 817.8,137.4 818.0,135.8 818.2,137.7 818.5,137.0 818.8,138.5 819.0,137.5 819.2,137.1 819.5,133.7 819.8,135.8 820.0,134.5 820.2,134.2 820.5,134.2 820.8,134.5 821.0,134.0 821.2,133.7 821.5,133.8 821.8,130.5 822.0,130.2 822.2,131.0 822.5,131.6 822.8,130.6 823.0,129.8 823.2,128.1 823.5,130.2 823.8,127.4 824.0,128.1 824.2,128.6 824.5,127.8 824.8,125.6 825.0,128.4 825.2,126.3 825.5,129.0 825.8,129.8 826.0,128.3 826.2,128.2 826.5,125.4 826.8,127.0 827.0,125.8 827.2,126.2 827.5,127.7 827.8,127.8 828.0,127.2 828.2,126.3 828.5,126.7 828.8,123.5 829.0,123.5 829.2,125.4 829.5,122.6 829.8,121.0 830.0,119.9 830.2,121.2 830.5,118.3 830.8,117.9 831.0,120.9 831.2,121.1 831.5,117.0 831.8,120.5 832.0,120.4 832.2,117.7 832.5,119.7 832.8,121.5 833.0,120.1 833.2,119.2 833.5,117.5 833.8,119.0 834.0,117.8 834.2,118.3 834.5,114.3 834.8,116.1 835.0,114.5 835.2,114.9 835.5,112.1 835.8,111.1 836.0,114.5 836.2,113.3 836.5,112.8 836.8,112.5 837.0,111.4 837.2,109.4 837.5,111.5 837.8,112.7 838.0,114.6 838.2,113.1 838.5,111.8 838.8,110.0 839.0,110.7 839.2,109.1 839.5,108.5 839.8,108.5 840.0,112.0 840.2,110.9 840.5,109.2 840.8,110.8 841.0,109.5 841.2,107.4 841.5,110.5 841.8,107.9 842.0,106.0 842.2,105.3 842.5,107.1 842.8,108.5 843.0,107.9 843.2,110.0 843.5,109.0 843.8,108.1 844.0,106.8 844.2,107.5 844.5,104.3 844.8,102.6 845.0,105.5 845.2,104.0 845.5,104.6 845.8,105.3 846.0,105.7 846.2,104.1 846.5,104.0 846.8,105.6 847.0,106.4 847.2,106.3 847.5,105.2 847.8,103.8 848.0,103.6 848.2,103.7 848.5,104.9 848.8,104.9 849.0,104.7 849.2,105.2 849.5,105.9 849.8,104.0 850.0,103.8 850.2,104.4 850.5,106.1 850.8,109.6 851.0,107.0 851.2,107.5 851.5,108.3 851.8,106.2 852.0,108.1 852.2,107.3 852.5,106.0 852.8,105.8 853.0,105.6 853.2,106.3 853.5,107.8 853.8,106.2 854.0,107.0 854.2,106.0 854.5,106.1 854.8,107.8 855.0,106.5 855.2,106.6 855.5,105.1 855.8,102.8 856.0,104.6 856.2,106.9 856.5,103.9 856.8,106.1 857.0,106.4 857.2,107.1 857.5,106.5 857.8,107.1 858.0,108.5 858.2,110.1 858.5,109.7 858.8,112.3 859.0,110.7 859.2,113.5 859.5,114.0 859.8,115.1 860.0,117.1 860.2,117.8 860.5,119.9 860.8,118.6 861.0,116.9 861.2,114.9 861.5,113.1 861.8,110.9 862.0,112.1 862.2,114.8 862.5,114.4 862.8,111.4 863.0,112.3 863.2,110.5 863.5,109.3 863.8,109.0 864.0,111.8 864.2,108.5 864.5,109.7 864.8,108.5 865.0,104.8 865.2,105.9 865.5,107.8 865.8,106.3 866.0,110.3 866.2,109.1 866.5,111.1 866.8,109.6 867.0,109.3 867.2,111.3 867.5,108.3 867.8,107.3 868.0,104.1 868.2,106.0 868.5,105.2 868.8,101.9 869.0,103.2 869.2,103.9 869.5,104.1 869.8,103.7 870.0,103.8 870.2,102.3 870.5,101.9 870.8,103.8 871.0,101.7 871.2,100.5 871.5,100.4 871.8,100.8 872.0,99.0 872.2,99.6 872.5,99.2 872.8,99.5 873.0,99.8 873.2,100.8 873.5,99.2 873.8,98.9 874.0,99.2 874.2,99.0 874.5,98.3 874.8,99.0 875.0,99.7 875.2,100.6 875.5,98.1 875.8,99.1 876.0,98.9 876.2,102.9 876.5,102.6 876.8,103.9 877.0,104.5 877.2,103.1 877.5,103.2 877.8,101.6 878.0,103.3 878.2,100.9 878.5,103.0 878.8,99.6 879.0,100.7 879.2,99.2 879.5,100.6 879.8,102.7 880.0,100.2 880.2,97.6 880.5,101.6 880.8,104.1 881.0,105.8 881.2,105.6 881.5,103.5 881.8,104.3 882.0,104.0 882.2,106.7 882.5,108.4 882.8,109.8 883.0,108.7 883.2,105.5 883.5,107.1 883.8,107.0 884.0,106.3 884.2,107.1 884.5,109.9 884.8,106.7 885.0,107.6 885.2,108.8 885.5,109.7 885.8,110.9 886.0,110.5 886.2,111.0 886.5,111.5 886.8,109.9 887.0,109.9 887.2,109.5 887.5,110.7 887.8,109.9 888.0,109.3 888.2,107.1 888.5,109.6 888.8,105.8 889.0,109.3 889.2,110.1 889.5,111.2 889.8,110.2 890.0,111.8 890.2,110.7 890.5,112.4 890.8,112.7 891.0,113.2 891.2,114.2 891.5,113.3 891.8,112.0 892.0,113.1 892.2,110.7 892.5,111.4 892.8,111.2 893.0,112.2 893.2,113.3 893.5,113.5 893.8,111.9 894.0,112.9 894.2,112.7 894.5,111.5 894.8,110.7 895.0,111.2 895.2,111.8 895.5,110.0 895.8,108.5 896.0,110.3 896.2,111.1 896.5,112.7 896.8,110.9 897.0,110.9 897.2,110.4 897.5,109.8 897.8,110.8 898.0,109.9 898.2,110.9 898.5,111.9 898.8,109.3 899.0,108.3 899.2,108.7 899.5,108.1 899.8,104.7 900.0,106.0 900.2,106.7 900.5,106.5 900.8,106.5 901.0,106.9 901.2,107.8 901.5,107.2 901.8,105.3 902.0,107.3 902.2,110.0 902.5,106.2 902.8,108.3 903.0,107.0 903.2,109.4 903.5,109.1 903.8,111.2 904.0,110.7 904.2,111.3 904.5,111.5 904.8,112.9 905.0,113.2 905.2,113.9 905.5,111.7 905.8,113.3 906.0,110.8 906.2,113.9 906.5,112.9 906.8,113.5 907.0,112.8 907.2,113.7 907.5,110.9 907.8,112.4 908.0,112.7 908.2,114.0 908.5,115.1 908.8,113.8 909.0,114.0 909.2,114.9 909.5,115.0 909.8,116.4 910.0,117.6 910.2,116.3 910.5,112.4 910.8,112.2 911.0,111.4 911.2,109.8 911.5,109.7 911.8,109.2 912.0,108.4 912.2,106.8 912.5,106.4 912.8,105.1 913.0,106.6 913.2,105.2 913.5,101.8 913.8,103.2 914.0,98.7 914.2,99.1 914.5,96.1 914.8,94.1 915.0,94.8 915.2,97.3 915.5,96.8 915.8,96.0 916.0,96.3 916.2,96.0 916.5,93.0 916.8,94.9 917.0,92.9 917.2,92.9 917.5,94.9 917.8,97.8 918.0,94.1 918.2,93.7 918.5,94.4 918.8,94.2 919.0,94.0 919.2,94.9 919.5,95.7 919.8,93.8 920.0,95.5 920.2,97.0 920.5,95.4 920.8,96.6 921.0,98.3 921.2,98.6 921.5,101.2 921.8,99.6 922.0,102.0 922.2,101.1 922.5,99.7 922.8,100.9 923.0,97.9 923.2,98.4 923.5,97.9 923.8,99.2 924.0,99.4 924.2,100.0 924.5,99.9 924.8,99.0 925.0,100.1 925.2,100.4 925.5,103.1 925.8,105.7 926.0,104.8 926.2,102.8 926.5,101.0 926.8,101.1 927.0,101.9 927.2,103.9 927.5,103.2 927.8,102.7 928.0,101.8 928.2,103.6 928.5,102.8 928.8,101.9 929.0,103.3 929.2,103.9 929.5,99.0 929.8,101.9 930.0,104.8 930.2,102.6 930.5,101.9 930.8,103.4 931.0,103.1 931.2,107.0 931.5,107.1 931.8,105.7 932.0,104.3 932.2,103.9 932.5,105.4 932.8,105.5 933.0,103.6 933.2,108.1 933.5,105.8 933.8,103.8 934.0,99.9 934.2,105.6 934.5,105.6 934.8,107.1 935.0,107.7 935.2,107.9 935.5,108.9 935.8,111.0 936.0,110.5 936.2,110.5 936.5,110.2 936.8,112.4 937.0,114.9 937.2,112.0 937.5,111.4 937.8,107.9 938.0,109.2 938.2,109.3 938.5,106.8 938.8,110.3 939.0,112.1 939.2,115.2 939.5,113.9 939.8,114.2 940.0,113.2 940.2,114.7 940.5,112.6 940.8,116.8 941.0,118.1 941.2,117.3 941.5,115.4 941.8,118.1 942.0,116.9 942.2,119.3 942.5,118.0 942.8,116.5 943.0,114.3 943.2,115.0 943.5,112.2 943.8,111.7 944.0,109.5 944.2,111.6 944.5,111.5 944.8,111.6 945.0,109.3 945.2,106.6 945.5,105.6 945.8,104.4 946.0,100.8 946.2,101.1 946.5,102.6 946.8,100.3 947.0,99.8 947.2,99.2 947.5,96.9 947.8,97.4 948.0,93.4 948.2,92.7 948.5,91.4 948.8,94.1 949.0,92.9 949.2,94.8 949.5,94.8 949.8,94.0 950.0,95.2 950.2,95.0 950.5,94.4 950.8,92.7 951.0,90.6 951.2,92.3 951.5,93.5 951.8,91.5 952.0,89.7 952.2,88.7 952.5,89.4 952.8,88.2 953.0,89.2 953.2,89.0 953.5,86.9 953.8,85.6 954.0,87.7 954.2,84.0 954.5,84.3 954.8,85.0 955.0,87.3 955.2,86.2 955.5,84.9 955.8,87.2 956.0,86.8 956.2,86.2 956.5,87.2 956.8,89.3 957.0,87.0 957.2,85.1 957.5,86.8 957.8,88.2 958.0,85.6 958.2,85.5 958.5,86.0 958.8,85.5 959.0,84.1 959.2,84.8 959.5,83.5 959.8,84.3 960.0,82.6 960.2,82.6 960.5,81.3 960.8,81.3 961.0,80.8 961.2,82.3 961.5,85.9 961.8,85.5 962.0,84.2 962.2,83.7 962.5,82.9 962.8,86.4 963.0,84.4 963.2,87.9 963.5,86.9 963.8,87.6 964.0,86.5 964.2,87.8 964.5,82.8 964.8,84.7 965.0,86.0 965.2,84.1 965.5,85.5 965.8,84.3 966.0,85.0 966.2,84.7 966.5,82.7 966.8,79.9 967.0,81.1 967.2,81.8 967.5,83.9 967.8,82.7 968.0,83.2 968.2,86.2 968.5,85.0 968.8,82.8 969.0,82.7 969.2,82.5 969.5,80.3 969.8,81.5 970.0,81.0 970.2,81.2 970.5,85.2 970.8,83.2 971.0,82.9 971.2,84.6 971.5,83.9 971.8,86.0 972.0,86.1 972.2,87.4 972.5,86.4 972.8,88.0 973.0,87.8 973.2,88.4 973.5,89.3 973.8,88.0 974.0,88.2 974.2,88.6 974.5,91.3 974.8,90.7 975.0,90.4 975.2,91.1 975.5,92.0 975.8,89.8 976.0,88.4 976.2,91.1 976.5,87.0 976.8,89.5 977.0,88.2 977.2,87.2 977.5,86.1 977.8,86.6 978.0,86.4 978.2,86.4 978.5,86.4 978.8,86.1 979.0,88.0 979.2,83.8 979.5,88.2 979.8,85.5 980.0,84.9 980.2,86.5 980.5,84.5 980.8,88.1 981.0,86.4 981.2,87.0 981.5,87.9 981.8,89.5 982.0,88.4 982.2,90.3 982.5,88.6 982.8,87.7 983.0,87.4 983.2,87.0 983.5,85.1 983.8,86.0 984.0,86.3 984.2,85.3 984.5,83.1 984.8,84.8 985.0,85.0 985.2,81.1 985.5,84.1 985.8,83.6 986.0,82.8 986.2,84.6 986.5,83.4 986.8,84.2 987.0,82.4 987.2,84.1 987.5,84.5 987.8,83.6 988.0,83.0 988.2,85.5 988.5,84.6 988.8,83.0 989.0,82.6 989.2,83.8 989.5,81.2 989.8,82.5 990.0,80.1 990.2,80.0 990.5,81.7 990.8,80.4 991.0,80.8 991.2,84.1 991.5,82.8 991.8,81.8 992.0,80.2 992.2,77.6 992.5,75.5 992.8,75.8 993.0,77.1 993.2,78.6 993.5,80.2 993.8,78.5 994.0,77.9 994.2,76.7 994.5,79.2 994.8,79.0 995.0,79.4 995.2,78.0 995.5,77.8 995.8,81.4 996.0,82.0 996.2,80.8 996.5,82.9 996.8,83.5 997.0,85.2 997.2,84.5 997.5,86.6 997.8,86.3 998.0,84.5 998.2,85.4 998.5,85.2 998.8,83.6 999.0,85.7 999.2,83.9 999.5,83.2 999.8,83.8 1000.0,84.3 1000.2,83.3 1000.5,84.7 1000.8,84.7 1001.0,85.9 1001.2,88.4 1001.5,91.1 1001.8,87.3 1002.0,88.3 1002.2,86.6 1002.5,83.9 1002.8,86.1 1003.0,87.7 1003.2,87.1 1003.5,86.3 1003.8,87.2 1004.0,84.9 1004.2,89.1 1004.5,87.1 1004.8,87.3 1005.0,88.2 1005.2,85.3 1005.5,87.3 1005.8,85.7 1006.0,85.3 1006.2,86.2 1006.5,87.0 1006.8,84.4 1007.0,85.0 1007.2,87.2 1007.5,85.1 1007.8,83.7 1008.0,82.9 1008.2,84.0 1008.5,83.9 1008.8,84.1 1009.0,85.3 1009.2,84.3 1009.5,85.5 1009.8,85.5 1010.0,86.7 1010.2,84.4 1010.5,86.3 1010.8,86.1 1011.0,86.0 1011.2,85.8 1011.5,87.0 1011.8,82.8 1012.0,82.9 1012.2,82.7 1012.5,82.4 1012.8,82.1 1013.0,82.1 1013.2,83.1 1013.5,84.0 1013.8,83.4 1014.0,83.3 1014.2,82.2 1014.5,82.3 1014.8,81.2 1015.0,83.3 1015.2,83.5 1015.5,85.4 1015.8,83.2 1016.0,85.0 1016.2,87.7 1016.5,85.5 1016.8,86.9 1017.0,87.9 1017.2,88.0 1017.5,87.9 1017.8,84.7 1018.0,85.8 1018.2,84.7 1018.5,83.7 1018.8,85.8 1019.0,83.7 1019.2,83.0 1019.5,86.3 1019.8,85.2 1020.0,88.0 1020.2,87.1 1020.5,87.6 1020.8,85.4 1021.0,86.4 1021.2,85.5 1021.5,87.1 1021.8,88.0 1022.0,84.9 1022.2,83.7 1022.5,83.0 1022.8,81.1 1023.0,80.1 1023.2,81.6 1023.5,83.0 1023.8,81.6 1024.0,82.0 1024.2,82.0 1024.5,81.6 1024.8,82.9 1025.0,82.9 1025.2,87.2 1025.5,87.2 1025.8,90.7 1026.0,88.9 1026.2,89.3 1026.5,90.8 1026.8,91.5 1027.0,89.2 1027.2,89.8 1027.5,90.4 1027.8,90.1 1028.0,89.6 1028.2,90.0 1028.5,88.7 1028.8,89.0 1029.0,89.2 1029.2,91.2 1029.5,91.2 1029.8,91.4 1030.0,92.6 1030.2,92.6 1030.5,94.3 1030.8,94.6 1031.0,93.4 1031.2,92.4 1031.5,93.2 1031.8,94.4 1032.0,93.8 1032.2,94.2 1032.5,93.4 1032.8,91.1 1033.0,90.8 1033.2,90.0 1033.5,91.1 1033.8,90.2 1034.0,90.1 1034.2,88.3 1034.5,86.7 1034.8,87.4 1035.0,84.7 1035.2,85.5 1035.5,87.7 1035.8,87.2 1036.0,86.8 1036.2,87.2 1036.5,85.2 1036.8,87.1 1037.0,82.5 1037.2,83.5 1037.5,84.3 1037.8,83.2 1038.0,81.9 1038.2,79.7 1038.5,81.4 1038.8,78.4 1039.0,77.2 1039.2,76.5 1039.5,77.7 1039.8,79.3 1040.0,78.7 1040.2,79.3 1040.5,78.6 1040.8,73.2 1041.0,73.7 1041.2,74.1 1041.5,77.0 1041.8,75.5 1042.0,73.7 1042.2,73.0 1042.5,74.2 1042.8,72.7 1043.0,73.8 1043.2,72.7 1043.5,73.0 1043.8,69.9 1044.0,69.3 1044.2,68.0 1044.5,71.1 1044.8,69.6 1045.0,67.3 1045.2,69.7 1045.5,67.9 1045.8,67.7 1046.0,66.8 1046.2,65.9 1046.5,68.1 1046.8,69.2 1047.0,70.0 1047.2,71.3 1047.5,71.7 1047.8,73.2 1048.0,72.8 1048.2,73.8 1048.5,73.3 1048.8,74.3 1049.0,72.3 1049.2,72.4 1049.5,74.0 1049.8,74.3 1050.0,74.8 1050.2,73.6 1050.5,77.1 1050.8,76.7 1051.0,76.2 1051.2,74.1 1051.5,75.4 1051.8,74.4 1052.0,74.7 1052.2,75.3 1052.5,75.8 1052.8,75.1 1053.0,76.2 1053.2,78.1 1053.5,77.3 1053.8,74.0 1054.0,76.3 1054.2,72.6 1054.5,70.1 1054.8,71.9 1055.0,76.0 1055.2,72.9 1055.5,73.3 1055.8,70.8 1056.0,71.1 1056.2,68.1 1056.5,69.2 1056.8,68.6 1057.0,68.8 1057.2,68.5 1057.5,66.3 1057.8,69.8 1058.0,68.7 1058.2,70.0 1058.5,69.2 1058.8,68.7 1059.0,71.0 1059.2,72.3 1059.5,72.4 1059.8,73.4 1060.0,71.7 1060.2,72.1 1060.5,76.1 1060.8,76.0 1061.0,77.1 1061.2,78.0 1061.5,80.0 1061.8,78.4 1062.0,79.9 1062.2,80.9 1062.5,81.0 1062.8,80.6 1063.0,80.0 1063.2,78.3 1063.5,79.0 1063.8,79.7 1064.0,77.7 1064.2,80.0 1064.5,80.6 1064.8,81.7 1065.0,81.0 1065.2,79.8 1065.5,80.5 1065.8,82.7 1066.0,80.5 1066.2,81.7 1066.5,83.0 1066.8,85.5 1067.0,84.0 1067.2,83.4 1067.5,84.3 1067.8,82.2 1068.0,81.9 1068.2,78.4 1068.5,79.2 1068.8,77.7 1069.0,75.8 1069.2,77.5 1069.5,78.6 1069.8,80.0 1070.0,77.4 1070.2,76.7 1070.5,76.7 1070.8,77.7 1071.0,76.8 1071.2,79.1 1071.5,77.4 1071.8,77.4 1072.0,78.0 1072.2,76.3 1072.5,74.0 1072.8,74.5 1073.0,74.8 1073.2,75.8 1073.5,76.7 1073.8,75.7 1074.0,76.8 1074.2,75.5 1074.5,75.0 1074.8,77.2 1075.0,75.4 1075.2,76.6 1075.5,78.5 1075.8,79.6 1076.0,79.2 1076.2,79.3 1076.5,78.7 1076.8,80.5 1077.0,83.3 1077.2,79.8 1077.5,83.2 1077.8,81.7 1078.0,82.2 1078.2,85.9 1078.5,86.6 1078.8,86.0 1079.0,87.6 1079.2,85.3 1079.5,84.8 1079.8,86.6 1080.0,84.6 1080.2,83.0 1080.5,82.6 1080.8,84.3 1081.0,86.1 1081.2,82.8 1081.5,83.5 1081.8,84.1 1082.0,82.3 1082.2,82.1 1082.5,80.0 1082.8,80.4 1083.0,81.8 1083.2,82.3 1083.5,81.3 1083.8,79.7 1084.0,80.6 1084.2,80.8 1084.5,78.5 1084.8,78.9 1085.0,77.2 1085.2,78.8 1085.5,79.0 1085.8,77.3 1086.0,78.5 1086.2,77.3 1086.5,79.6 1086.8,76.9 1087.0,74.2 1087.2,76.4 1087.5,80.6 1087.8,78.6 1088.0,78.0 1088.2,80.0 1088.5,81.0 1088.8,80.4 1089.0,76.9 1089.2,78.8 1089.5,77.2 1089.8,74.8 1090.0,78.1 1090.2,76.9 1090.5,77.0 1090.8,76.2 1091.0,75.4 1091.2,77.3 1091.5,78.3 1091.8,75.1 1092.0,74.4 1092.2,74.8 1092.5,75.7 1092.8,76.6 1093.0,77.9 1093.2,74.8 1093.5,73.8 1093.8,75.2 1094.0,78.1 1094.2,77.6 1094.5,74.3 1094.8,73.6 1095.0,74.2 1095.2,74.7 1095.5,76.2 1095.8,77.4 1096.0,78.5 1096.2,78.2 1096.5,77.3 1096.8,77.1 1097.0,77.5 1097.2,78.5 1097.5,80.2 1097.8,79.0 1098.0,81.9 1098.2,82.3 1098.5,82.3 1098.8,81.7 1099.0,78.7 1099.2,79.1 1099.5,77.4 1099.8,78.7 1100.0,79.0 1100.2,80.0 1100.5,81.5 1100.8,80.7 1101.0,82.7 1101.2,82.3 1101.5,83.9 1101.8,84.5 1102.0,80.7 1102.2,80.6 1102.5,78.7 1102.8,81.7 1103.0,80.0 1103.2,81.4 1103.5,80.5 1103.8,80.8 1104.0,81.9 1104.2,82.1 1104.5,83.1 1104.8,83.6 1105.0,82.6 1105.2,80.5 1105.5,80.1 1105.8,80.2 1106.0,78.4 1106.2,76.3 1106.5,76.8 1106.8,79.1 1107.0,77.6 1107.2,77.2 1107.5,80.9 1107.8,78.8 1108.0,78.7 1108.2,79.4 1108.5,79.1 1108.8,79.4 1109.0,78.8 1109.2,80.3 1109.5,76.9 1109.8,79.2 1110.0,79.0 1110.2,77.8 1110.5,77.3 1110.8,78.6 1111.0,76.8 1111.2,75.9 1111.5,77.3 1111.8,76.8 1112.0,78.1 1112.2,77.6 1112.5,79.1 1112.8,76.0 1113.0,73.9 1113.2,77.4 1113.5,79.6 1113.8,76.7 1114.0,79.5 1114.2,80.2 1114.5,79.1 1114.8,77.7 1115.0,76.8 1115.2,75.3 1115.5,76.5 1115.8,77.3 1116.0,75.1 1116.2,77.2 1116.5,74.6 1116.8,77.0 1117.0,78.0 1117.2,77.0 1117.5,74.0 1117.8,75.3 1118.0,75.1 1118.2,75.1 1118.5,74.5 1118.8,75.7 1119.0,75.8 1119.2,75.4 1119.5,74.4 1119.8,76.0 1120.0,76.9 1120.2,76.1 1120.5,74.3 1120.8,74.4 1121.0,70.9 1121.2,69.0 1121.5,70.2 1121.8,70.7 1122.0,70.0 1122.2,70.1 1122.5,72.5 1122.8,72.2 1123.0,72.3 1123.2,74.1 1123.5,71.0 1123.8,73.0 1124.0,71.0 1124.2,70.0 1124.5,72.3 1124.8,69.1 1125.0,72.9 1125.2,70.6 1125.5,72.9 1125.8,72.3 1126.0,74.5 1126.2,75.4 1126.5,77.7 1126.8,76.6 1127.0,76.6 1127.2,78.2 1127.5,77.3 1127.8,78.7 1128.0,79.9 1128.2,80.2 1128.5,80.9 1128.8,79.3 1129.0,78.5 1129.2,80.3 1129.5,82.6 1129.8,84.7 1130.0,87.3 1130.2,88.2 1130.5,88.8 1130.8,86.6 1131.0,88.4 1131.2,88.8 1131.5,87.4 1131.8,88.2 1132.0,85.5 1132.2,86.9 1132.5,85.2 1132.8,87.3 1133.0,88.8 1133.2,86.6 1133.5,86.4 1133.8,85.5 1134.0,84.9 1134.2,86.0 1134.5,82.1 1134.8,83.1 1135.0,82.1 1135.2,84.0 1135.5,83.2 1135.8,82.0 1136.0,79.5 1136.2,78.6 1136.5,78.7 1136.8,76.9 1137.0,79.0 1137.2,78.3 1137.5,79.4 1137.8,79.5 1138.0,79.4 1138.2,77.3 1138.5,78.9 1138.8,78.1 1139.0,81.2 1139.2,78.7 1139.5,78.9 1139.8,77.8 1140.0,78.5 1140.2,80.3 1140.5,80.1 1140.8,81.3 1141.0,81.2 1141.2,82.6 1141.5,82.6 1141.8,81.3 1142.0,80.4" fill="none" stroke="#1b9e77" stroke-width="3.8" stroke-linejoin="round"/>
</g>
<rect x="492.1" y="288.7" width="639.2" height="42.7" rx="5" ry="5" fill="#fff" fill-opacity="0.8" stroke="#d6d6d6" stroke-width="1"/>
<line x1="500.8" y1="307" x2="555" y2="307" stroke="#1b9e77" stroke-width="3"/>
<line x1="708.3" y1="307.5" x2="760" y2="307.5" stroke="#d95f02" stroke-width="3" stroke-dasharray="11 4.8"/>
<line x1="899" y1="307.5" x2="942" y2="307.5" stroke="#7570b3" stroke-width="3" stroke-dasharray="6 11.9"/>
<text x="0" y="0" font-family="Liberation Serif, serif" font-size="24" fill="#2e2e2e" transform="matrix(1.2567,0,0,1.0813,574.26,315.83)">HPGD</text>
<text x="0" y="0" font-family="Liberation Serif, serif" font-size="24" fill="#2e2e2e" transform="matrix(1.1781,0,0,1.1556,781.51,315.90)">AMD</text>
<text x="0" y="0" font-family="Liberation Serif, serif" font-size="24" fill="#2e2e2e" transform="matrix(1.1984,0,0,1.0500,971.20,315.64)">Z<tspan font-size="19.3">ERO-ORDER</tspan></text>
<path d="M480.6,8.8 V338 H1142.3 V8.8 Z" fill="none" stroke="#000" stroke-width="2.8"/>
<line x1="474.4" y1="45.40" x2="480.6" y2="45.40" stroke="#000" stroke-width="2.9"/>
<text x="0" y="0" font-family="Liberation Serif, serif" font-size="24" fill="#2e2e2e" transform="matrix(1.0259,0,0,1.0763,440.55,54.18)">1.0</text>
<line x1="474.4" y1="118.40" x2="480.6" y2="118.40" stroke="#000" stroke-width="2.9"/>
<text x="0" y="0" font-family="Liberation Serif, serif" font-size="24" fill="#2e2e2e" transform="matrix(1.0607,0,0,1.0954,439.84,128.33)">0.8</text>
<line x1="474.4" y1="191.40" x2="480.6" y2="191.40" stroke="#000" stroke-width="2.9"/>
<text x="0" y="0" font-family="Liberation Serif, serif" font-size="24" fill="#2e2e2e" transform="matrix(1.0336,0,0,1.1015,440.17,201.62)">0.6</text>
<line x1="474.4" y1="264.65" x2="480.6" y2="264.65" stroke="#000" stroke-width="2.9"/>
<text x="0" y="0" font-family="Liberation Serif, serif" font-size="24" fill="#2e2e2e" transform="matrix(1.0316,0,0,1.0763,440.17,274.18)">0.4</text>
<line x1="480.40" y1="338" x2="480.40" y2="343.8" stroke="#000" stroke-width="2.8"/>
<text x="0" y="0" font-family="Liberation Serif, serif" font-size="24" fill="#2e2e2e" transform="matrix(0.9935,0,0,1.1077,474.79,365.42)">0</text>
<line x1="612.70" y1="338" x2="612.70" y2="343.8" stroke="#000" stroke-width="2.8"/>
<text x="0" y="0" font-family="Liberation Serif, serif" font-size="24" fill="#2e2e2e" transform="matrix(0.9935,0,0,1.1077,589.21,365.42)">2000</text>
<line x1="745.00" y1="338" x2="745.00" y2="343.8" stroke="#000" stroke-width="2.8"/>
<text x="0" y="0" font-family="Liberation Serif, serif" font-size="24" fill="#2e2e2e" transform="matrix(0.9935,0,0,1.1077,721.75,365.42)">4000</text>
<line x1="877.30" y1="338" x2="877.30" y2="343.8" stroke="#000" stroke-width="2.8"/>
<text x="0" y="0" font-family="Liberation Serif, serif" font-size="24" fill="#2e2e2e" transform="matrix(0.9935,0,0,1.1077,853.81,365.42)">6000</text>
<line x1="1009.60" y1="338" x2="1009.60" y2="343.8" stroke="#000" stroke-width="2.8"/>
<text x="0" y="0" font-family="Liberation Serif, serif" font-size="24" fill="#2e2e2e" transform="matrix(0.9935,0,0,1.1077,986.11,365.42)">8000</text>
<line x1="1141.90" y1="338" x2="1141.90" y2="343.8" stroke="#000" stroke-width="2.8"/>
<text x="0" y="0" font-family="Liberation Serif, serif" font-size="24" fill="#2e2e2e" transform="matrix(0.9935,0,0,1.1077,1111.95,365.42)">10000</text>
<text x="0" y="0" font-family="Liberation Sans, sans-serif" font-size="22" transform="matrix(1.0554,0,0,1.1200,715.94,391.82)">Outer iterations:</text>
<text x="0" y="0" font-family="Liberation Serif, serif" font-style="italic" font-size="24" transform="matrix(1.3208,0,0,1.1238,890.32,392.10)">T</text>
<text x="0" y="0" font-family="Liberation Sans, sans-serif" font-size="22" transform="matrix(0,-1.0161,1.1024,0,431.74,294.38)">Upper-level objective:</text>
<text x="0" y="0" font-family="Liberation Serif, serif" font-style="italic" font-size="24" transform="matrix(0,-0.9966,1.1048,0,431.90,64.50)">F</text>
<text x="0" y="0" font-family="Liberation Sans, sans-serif" font-size="18" transform="matrix(0.8667,0,0,0.9961,44.45,152.55)" stroke="#000" stroke-width="0.85">S</text>
<text x="0" y="0" font-family="Liberation Sans, sans-serif" font-weight="bold" font-size="18" transform="matrix(0.9633,0,0,0.9961,268.98,68.45)">G</text>
<text x="0" y="0" font-family="Liberation Serif, serif" font-size="11" transform="matrix(0.8800,0,0,1.0759,282.22,60.50)">1</text>
<text x="0" y="0" font-family="Liberation Sans, sans-serif" font-weight="bold" font-size="18" transform="matrix(0.9143,0,0,0.9961,325.31,348.85)">G</text>
<text x="0" y="0" font-family="Liberation Serif, serif" font-size="11" transform="matrix(1.2667,0,0,1.0621,337.67,340.50)">2</text>
<text x="0" y="0" font-family="Liberation Serif, serif" font-size="20" transform="matrix(1.4703,0,0,1.3622,127.93,269.32)">+</text>
<text x="0" y="0" font-family="Liberation Serif, serif" font-weight="bold" font-size="20" transform="matrix(0.9867,0,0,0.9887,143.82,265.20)">1</text>
<text x="48.90" y="441.7" font-family="Liberation Serif, serif" font-size="25.5">(a)</text>
<text x="83.30" y="441.7" font-family="Liberation Serif, serif" font-size="25.5">Four-Rooms</text>
<text x="214.40" y="441.7" font-family="Liberation Serif, serif" font-size="25.5">State</text>
<text x="275.60" y="441.7" font-family="Liberation Serif, serif" font-size="25.5">Space</text>
<text x="410.90" y="441.7" font-family="Liberation Serif, serif" font-size="25.5">(b)</text>
<text x="448.20" y="441.7" font-family="Liberation Serif, serif" font-size="25.5">Upper-level</text>
<text x="581.55" y="441.7" font-family="Liberation Serif, serif" font-size="25.5">objective</text>
<text x="686.94" y="441.7" font-family="Liberation Serif, serif" font-size="25.5">values</text>
<text x="772.80" y="441.7" font-family="Liberation Serif, serif" font-size="25.5" font-style="italic">F</text>
<text x="795.38" y="441.7" font-family="Liberation Serif, serif" font-size="25.5">versus</text>
<text x="855.32" y="441.7" font-family="Liberation Serif, serif" font-size="25.5">the</text>
<text x="897.87" y="441.7" font-family="Liberation Serif, serif" font-size="25.5">number</text>
<text x="987.45" y="441.7" font-family="Liberation Serif, serif" font-size="25.5">of</text>
<text x="1016.60" y="441.7" font-family="Liberation Serif, serif" font-size="25.5">outer</text>
<text x="1076.90" y="441.7" font-family="Liberation Serif, serif" font-size="25.5">iterations</text>
</svg>
</body></html>
